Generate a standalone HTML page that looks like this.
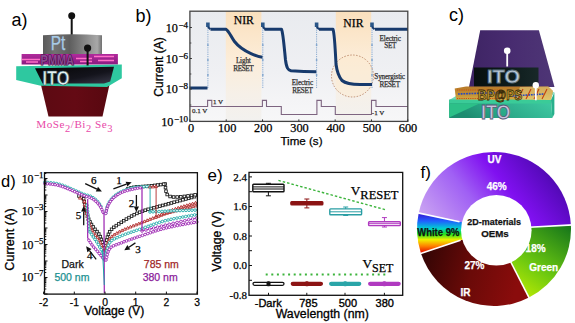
<!DOCTYPE html>
<html><head><meta charset="utf-8"><style>
html,body{margin:0;padding:0;background:#fff;width:575px;height:323px;overflow:hidden}
svg{display:block}
</style></head><body>
<svg width="575" height="323" viewBox="0 0 575 323">
<defs>
<linearGradient id="ptg" x1="0" x2="1" y1="0" y2="0">
 <stop offset="0" stop-color="#5a5a5a"/><stop offset="0.2" stop-color="#727272"/><stop offset="0.45" stop-color="#5e5e5e"/>
 <stop offset="0.78" stop-color="#929292"/><stop offset="0.92" stop-color="#a8a8a8"/><stop offset="1" stop-color="#707070"/>
</linearGradient>
<linearGradient id="marg" x1="0" x2="1" y1="0" y2="0">
 <stop offset="0" stop-color="#5c0a12"/><stop offset="0.5" stop-color="#640a14"/><stop offset="1" stop-color="#580810"/>
</linearGradient>
<linearGradient id="pmg" x1="0" x2="0" y1="0" y2="1">
 <stop offset="0" stop-color="#b02a9c"/><stop offset="1" stop-color="#8a1a80"/>
</linearGradient>
<linearGradient id="itoblk" x1="0" x2="1" y1="0" y2="1">
 <stop offset="0" stop-color="#050505"/><stop offset="0.6" stop-color="#14141c"/><stop offset="1" stop-color="#3a3a4a"/>
</linearGradient>

<linearGradient id="bbg" x1="0" x2="0" y1="0" y2="1">
 <stop offset="0" stop-color="#e9ebef"/><stop offset="0.55" stop-color="#eff0f3"/><stop offset="0.8" stop-color="#f4f4f6"/><stop offset="1" stop-color="#f7f7f8"/>
</linearGradient>
<linearGradient id="nir" x1="0" x2="0" y1="0" y2="1">
 <stop offset="0" stop-color="#fae0bd"/><stop offset="0.45" stop-color="#fcedd9"/><stop offset="0.75" stop-color="#f6f0e8"/><stop offset="1" stop-color="#f2f1ef"/>
</linearGradient>

<linearGradient id="cpur" x1="0" x2="1" y1="0" y2="0">
 <stop offset="0" stop-color="#3e2464"/><stop offset="0.5" stop-color="#482c70"/><stop offset="1" stop-color="#4e3676"/>
</linearGradient>
<linearGradient id="cblk" x1="0" x2="1" y1="0" y2="0">
 <stop offset="0" stop-color="#081010"/><stop offset="0.5" stop-color="#0c1a1a"/><stop offset="1" stop-color="#182828"/>
</linearGradient>
<linearGradient id="tealf" x1="0" x2="1" y1="0.3" y2="0">
 <stop offset="0" stop-color="#1c8c70"/><stop offset="0.35" stop-color="#2aa888"/><stop offset="1" stop-color="#40cca4"/>
</linearGradient>
<linearGradient id="cgold" x1="0" x2="0" y1="0" y2="1">
 <stop offset="0" stop-color="#b87a2a"/><stop offset="0.5" stop-color="#c08c30"/><stop offset="1" stop-color="#d4ac48"/>
</linearGradient>

<linearGradient id="uvg" x1="0" y1="0.75" x2="1" y2="0.35">
 <stop offset="0" stop-color="#c9a2f2"/><stop offset="0.35" stop-color="#a060f4"/><stop offset="0.6" stop-color="#8010f0"/><stop offset="0.85" stop-color="#5a0ac0"/><stop offset="1" stop-color="#40089a"/>
</linearGradient>
<linearGradient id="grg" x1="0.2" y1="1" x2="0.9" y2="0">
 <stop offset="0" stop-color="#ccf200"/><stop offset="0.45" stop-color="#6cc810"/><stop offset="1" stop-color="#1a7a1a"/>
</linearGradient>
<linearGradient id="irg" x1="0" y1="0" x2="1" y2="0.2">
 <stop offset="0" stop-color="#2a0404"/><stop offset="0.55" stop-color="#6a0a08"/><stop offset="1" stop-color="#8a0c0c"/>
</linearGradient>
<linearGradient id="whg" x1="0" y1="0" x2="0" y2="1">
 <stop offset="0" stop-color="#3a10d0"/><stop offset="0.2" stop-color="#2060ff"/><stop offset="0.38" stop-color="#00d0d0"/>
 <stop offset="0.52" stop-color="#20e020"/><stop offset="0.66" stop-color="#f0f000"/><stop offset="0.82" stop-color="#ff8000"/><stop offset="1" stop-color="#e00000"/>
</linearGradient>
</defs>
<text x="11.5" y="25.6" font-size="18" fill="#000" font-family='"Liberation Sans", sans-serif' text-anchor="start" font-weight="normal" >a)</text>
<text x="135.5" y="22.3" font-size="18" fill="#000" font-family='"Liberation Sans", sans-serif' text-anchor="start" font-weight="normal" >b)</text>
<text x="449" y="21" font-size="18" fill="#000" font-family='"Liberation Sans", sans-serif' text-anchor="start" font-weight="normal" >c)</text>
<text x="1" y="186.5" font-size="16.5" fill="#000" font-family='"Liberation Sans", sans-serif' text-anchor="start" font-weight="normal" >d)</text>
<text x="207.5" y="180.5" font-size="17" fill="#000" font-family='"Liberation Sans", sans-serif' text-anchor="start" font-weight="normal" >e)</text>
<text x="420.5" y="178.3" font-size="17" fill="#000" font-family='"Liberation Sans", sans-serif' text-anchor="start" font-weight="normal" >f)</text>
<g>
<line x1="71.7" y1="15.8" x2="71.7" y2="35" stroke="#111" stroke-width="2"/>
<circle cx="71.7" cy="15.8" r="3.5" fill="#111"/>
<polygon points="41,85 109.4,85 102.5,116.5 48.5,116.5" fill="url(#marg)"/>
<path d="M43,35.3 Q72,33 102,35.3 V54 H43 Z" fill="url(#ptg)"/>
<rect x="21.6" y="54" width="96.3" height="10.5" fill="url(#pmg)"/>
<path d="M22,59.5 h18 M26,62 h12 M76,58.5 h16 M94,56.5 h20 M80,61.5 h12 M98,60.5 h16" stroke="#ff70c8" stroke-width="1.3"/>
<polygon points="16.2,66.3 121.8,64.4 121.8,78.3 107,86.9 40.7,85.8 16.2,80" fill="#2ec8a0"/>
<polygon points="35,68.2 114,66.7 110.2,81.4 104,83.5 42.6,83.5" fill="url(#itoblk)"/>
<line x1="87.6" y1="48.1" x2="87.6" y2="65.5" stroke="#111" stroke-width="2"/>
<circle cx="87.6" cy="48.1" r="3.6" fill="#111"/>
</g>
<text x="50.8" y="50" font-size="20" fill="#a8cce8" font-family='"Liberation Sans", sans-serif' text-anchor="start" font-weight="normal" textLength="14.5" lengthAdjust="spacingAndGlyphs" stroke="#a8cce8" stroke-width="0.25">Pt</text>
<text x="40.6" y="65.4" font-size="14" fill="#8a4890" font-family='"Liberation Sans", sans-serif' text-anchor="start" font-weight="bold" stroke="#3a0a3a" stroke-width="1.2" paint-order="stroke" textLength="33.4" lengthAdjust="spacingAndGlyphs">PMMA</text>
<text x="42.6" y="85.4" font-size="21" fill="#e4f2f2" font-family='"Liberation Sans", sans-serif' text-anchor="start" font-weight="bold" stroke="#3a6068" stroke-width="0.7" textLength="26.8" lengthAdjust="spacingAndGlyphs">ITO</text>
<text x="36.3" y="128.4" font-size="11.2" fill="#e848a8" font-family='"Liberation Serif", serif' letter-spacing="0.5">MoSe<tspan font-size="10.5" dy="3.3">2</tspan><tspan dy="-3.3">/Bi</tspan><tspan font-size="10.5" dy="3.3">2</tspan><tspan dy="-3.3"> Se</tspan><tspan font-size="10.5" dy="3.3">3</tspan></text>
<rect x="189.9" y="11.2" width="217.9" height="110.2" fill="url(#bbg)"/>
<rect x="225.8" y="11.2" width="35.6" height="110.2" fill="url(#nir)"/>
<rect x="335.8" y="11.2" width="35.4" height="110.2" fill="url(#nir)"/>
<circle cx="352.5" cy="76" r="21" fill="#fbe9cf" fill-opacity="0.5" stroke="#b27a5a" stroke-width="0.8" stroke-dasharray="1.5,1.5"/>
<path d="M189.9,106.5 H207.6 V100.4 H211.8 V106.5 H262.4 V100.4 H266.5 V106.5 H281.3 V114.5 H316.9 V100.4 H321.3 V106.5 H335.3 V114.5 H371.5 V100.4 H376 V106.5 H407.8" fill="none" stroke="#7d6480" stroke-width="1.1"/>
<line x1="207.9" y1="88" x2="207.9" y2="24" stroke="#7ea3cc" stroke-width="0.9" stroke-dasharray="1.2,1"/>
<circle cx="207.9" cy="45" r="0.9" fill="#7ea3cc"/>
<circle cx="207.9" cy="60" r="0.9" fill="#7ea3cc"/>
<circle cx="207.9" cy="75" r="0.9" fill="#7ea3cc"/>
<line x1="262.8" y1="88" x2="262.8" y2="24" stroke="#7ea3cc" stroke-width="0.9" stroke-dasharray="1.2,1"/>
<circle cx="262.8" cy="45" r="0.9" fill="#7ea3cc"/>
<circle cx="262.8" cy="60" r="0.9" fill="#7ea3cc"/>
<circle cx="262.8" cy="75" r="0.9" fill="#7ea3cc"/>
<line x1="316.6" y1="88" x2="316.6" y2="24" stroke="#7ea3cc" stroke-width="0.9" stroke-dasharray="1.2,1"/>
<circle cx="316.6" cy="45" r="0.9" fill="#7ea3cc"/>
<circle cx="316.6" cy="60" r="0.9" fill="#7ea3cc"/>
<circle cx="316.6" cy="75" r="0.9" fill="#7ea3cc"/>
<line x1="372" y1="88" x2="372" y2="24" stroke="#7ea3cc" stroke-width="0.9" stroke-dasharray="1.2,1"/>
<circle cx="372" cy="45" r="0.9" fill="#7ea3cc"/>
<circle cx="372" cy="60" r="0.9" fill="#7ea3cc"/>
<circle cx="372" cy="75" r="0.9" fill="#7ea3cc"/>
<path d="M189.5,88 H207.5" fill="none" stroke="#173a6c" stroke-width="3" stroke-linejoin="round"/>
<path d="M210.5,29.2 H226 C229,31 231,37 234.5,41.5 C238,46 243,50 251,53.6 C255,55.5 259,57 262.5,57.3" fill="none" stroke="#173a6c" stroke-width="3" stroke-linejoin="round"/>
<path d="M264.5,29.2 H281.5 C283,32 284,45 285.5,60 C286.5,68 288,70 291,70.8 C300,71.5 308,71.8 316.3,71.8" fill="none" stroke="#173a6c" stroke-width="3" stroke-linejoin="round"/>
<path d="M319,29.2 H333 C334.5,33 335.3,50 336,64 C337,72 339,77 342,80.5 C345,83 350,84.5 360,84.5 H372" fill="none" stroke="#173a6c" stroke-width="3" stroke-linejoin="round"/>
<path d="M375,29.2 H408" fill="none" stroke="#173a6c" stroke-width="3" stroke-linejoin="round"/>
<rect x="206.1" y="22.5" width="3.6" height="4.5" fill="#2a5688"/>
<path d="M207.9,27 L210.5,29.2" stroke="#173a6c" stroke-width="2"/>
<rect x="261.0" y="22.5" width="3.6" height="4.5" fill="#2a5688"/>
<path d="M262.8,27 L265.40000000000003,29.2" stroke="#173a6c" stroke-width="2"/>
<rect x="314.8" y="22.5" width="3.6" height="4.5" fill="#2a5688"/>
<path d="M316.6,27 L319.20000000000005,29.2" stroke="#173a6c" stroke-width="2"/>
<rect x="370.2" y="22.5" width="3.6" height="4.5" fill="#2a5688"/>
<path d="M372,27 L374.6,29.2" stroke="#173a6c" stroke-width="2"/>
<rect x="189.9" y="11.2" width="217.9" height="110.2" fill="none" stroke="#444" stroke-width="1.3"/>
<line x1="189.9" y1="121.4" x2="189.9" y2="119.4" stroke="#333" stroke-width="1"/>
<text x="191.0" y="132.2" font-size="12.3" fill="#000" font-family='"Liberation Serif", serif' text-anchor="middle" font-weight="normal"  stroke="#000" stroke-width="0.25">0</text>
<line x1="226.21666666666667" y1="121.4" x2="226.21666666666667" y2="119.4" stroke="#333" stroke-width="1"/>
<text x="227.2" y="132.2" font-size="12.3" fill="#000" font-family='"Liberation Serif", serif' text-anchor="middle" font-weight="normal"  stroke="#000" stroke-width="0.25">100</text>
<line x1="262.53333333333336" y1="121.4" x2="262.53333333333336" y2="119.4" stroke="#333" stroke-width="1"/>
<text x="263.3" y="132.2" font-size="12.3" fill="#000" font-family='"Liberation Serif", serif' text-anchor="middle" font-weight="normal"  stroke="#000" stroke-width="0.25">200</text>
<line x1="298.85" y1="121.4" x2="298.85" y2="119.4" stroke="#333" stroke-width="1"/>
<text x="299.5" y="132.2" font-size="12.3" fill="#000" font-family='"Liberation Serif", serif' text-anchor="middle" font-weight="normal"  stroke="#000" stroke-width="0.25">300</text>
<line x1="335.1666666666667" y1="121.4" x2="335.1666666666667" y2="119.4" stroke="#333" stroke-width="1"/>
<text x="335.7" y="132.2" font-size="12.3" fill="#000" font-family='"Liberation Serif", serif' text-anchor="middle" font-weight="normal"  stroke="#000" stroke-width="0.25">400</text>
<line x1="371.48333333333335" y1="121.4" x2="371.48333333333335" y2="119.4" stroke="#333" stroke-width="1"/>
<text x="371.9" y="132.2" font-size="12.3" fill="#000" font-family='"Liberation Serif", serif' text-anchor="middle" font-weight="normal"  stroke="#000" stroke-width="0.25">500</text>
<line x1="407.8" y1="121.4" x2="407.8" y2="119.4" stroke="#333" stroke-width="1"/>
<text x="408.0" y="132.2" font-size="12.3" fill="#000" font-family='"Liberation Serif", serif' text-anchor="middle" font-weight="normal"  stroke="#000" stroke-width="0.25">600</text>
<line x1="189.9" y1="27.5" x2="191.9" y2="27.5" stroke="#333" stroke-width="1"/>
<line x1="189.9" y1="58.5" x2="191.9" y2="58.5" stroke="#333" stroke-width="1"/>
<line x1="189.9" y1="89" x2="191.9" y2="89" stroke="#333" stroke-width="1"/>
<line x1="189.9" y1="43" x2="191.4" y2="43" stroke="#333" stroke-width="0.8"/>
<line x1="189.9" y1="74" x2="191.4" y2="74" stroke="#333" stroke-width="0.8"/>
<line x1="189.9" y1="105" x2="191.4" y2="105" stroke="#333" stroke-width="0.8"/>
<text x="188.1" y="31.9" font-family='"Liberation Serif", serif' font-size="12.2" text-anchor="end" stroke="#000" stroke-width="0.25">10<tspan font-size="9" dy="-4.3" dx="0.6">−4</tspan></text>
<text x="188.1" y="62.9" font-family='"Liberation Serif", serif' font-size="12.2" text-anchor="end" stroke="#000" stroke-width="0.25">10<tspan font-size="9" dy="-4.3" dx="0.6">−6</tspan></text>
<text x="188.1" y="93.4" font-family='"Liberation Serif", serif' font-size="12.2" text-anchor="end" stroke="#000" stroke-width="0.25">10<tspan font-size="9" dy="-4.3" dx="0.6">−8</tspan></text>
<text x="188.1" y="125.9" font-family='"Liberation Serif", serif' font-size="12.2" text-anchor="end" stroke="#000" stroke-width="0.25">10<tspan font-size="9" dy="-4.3" dx="0.6">−10</tspan></text>
<text x="301.5" y="145.2" font-size="11.6" fill="#000" font-family='"Liberation Sans", sans-serif' text-anchor="middle" font-weight="normal"  stroke="#000" stroke-width="0.25">Time (s)</text>
<text transform="translate(162.5,67) rotate(-90)" font-size="12" font-family='"Liberation Sans", sans-serif' text-anchor="middle" stroke="#000" stroke-width="0.3">Current (A)</text>
<text x="243.8" y="24.3" font-size="11.7" fill="#000" font-family='"Liberation Serif", serif' text-anchor="middle" font-weight="normal"  stroke="#000" stroke-width="0.25">NIR</text>
<text x="353.4" y="26.6" font-size="11.7" fill="#000" font-family='"Liberation Serif", serif' text-anchor="middle" font-weight="normal"  stroke="#000" stroke-width="0.25">NIR</text>
<text x="243.3" y="62.5" font-size="7.2" fill="#333" font-family='"Liberation Serif", serif' text-anchor="middle" font-weight="normal" letter-spacing="-0.15" stroke="#333" stroke-width="0.25">Light</text>
<text x="243.3" y="70.8" font-size="7.2" fill="#333" font-family='"Liberation Serif", serif' text-anchor="middle" font-weight="normal" letter-spacing="-0.35" stroke="#333" stroke-width="0.25">RESET</text>
<text x="302.4" y="84.6" font-size="7.2" fill="#333" font-family='"Liberation Serif", serif' text-anchor="middle" font-weight="normal" letter-spacing="-0.15" stroke="#333" stroke-width="0.25">Electric</text>
<text x="302.4" y="93" font-size="7.2" fill="#333" font-family='"Liberation Serif", serif' text-anchor="middle" font-weight="normal" letter-spacing="-0.35" stroke="#333" stroke-width="0.25">RESET</text>
<text x="390.2" y="40.6" font-size="7.2" fill="#333" font-family='"Liberation Serif", serif' text-anchor="middle" font-weight="normal" letter-spacing="-0.15" stroke="#333" stroke-width="0.25">Electric</text>
<text x="390.2" y="48.2" font-size="7.2" fill="#333" font-family='"Liberation Serif", serif' text-anchor="middle" font-weight="normal" letter-spacing="-0.35" stroke="#333" stroke-width="0.25">SET</text>
<text x="389.6" y="79" font-size="7.2" fill="#333" font-family='"Liberation Serif", serif' text-anchor="middle" font-weight="normal" letter-spacing="-0.15" stroke="#333" stroke-width="0.25">Synergistic</text>
<text x="389.6" y="87" font-size="7.2" fill="#333" font-family='"Liberation Serif", serif' text-anchor="middle" font-weight="normal" letter-spacing="-0.35" stroke="#333" stroke-width="0.25">RESET</text>
<text x="192" y="113.2" font-size="7" fill="#333" font-family='"Liberation Serif", serif' text-anchor="start" font-weight="normal"  stroke="#333" stroke-width="0.25">0.1 V</text>
<text x="213" y="104.2" font-size="7" fill="#333" font-family='"Liberation Serif", serif' text-anchor="start" font-weight="normal"  stroke="#333" stroke-width="0.25">1 V</text>
<text x="371.8" y="115.2" font-size="7" fill="#333" font-family='"Liberation Serif", serif' text-anchor="start" font-weight="normal"  stroke="#333" stroke-width="0.25">-1 V</text>
<g>
<polygon points="480.2,30.3 538.9,30.3 554.5,87 469,87" fill="url(#cpur)"/>
<polygon points="474,67.5 538.5,67.5 538.5,86.7 474,86.7" fill="url(#cblk)"/>
<line x1="507.2" y1="50.7" x2="507.2" y2="66.5" stroke="#fff" stroke-width="1.8"/>
<circle cx="507.2" cy="50.7" r="3.3" fill="#fff"/>
<polygon points="449.2,100 462,92.5 554.4,92.2 549,100" fill="#6adcbc"/>
<polygon points="454.7,88.4 466,86.5 548.3,86.5 553,91 551,100 456,100" fill="url(#cgold)"/>
<polygon points="520,87 548.3,86.5 553,91 551,100 515,100" fill="#f0e090" opacity="0.5"/>
<path d="M458,94 l44,-1.5 M512,96 l32,-2" stroke="#2848c0" stroke-width="1.6" stroke-dasharray="1.8,0.9"/>
<path d="M457,90 h44 M457,98.5 h46" stroke="#c85010" stroke-width="1" stroke-dasharray="1.2,1"/>
<path d="M518,99 l5,-10 M526,99 l5,-10 M534,99 l5,-10 M542,99 l5,-10" stroke="#c04010" stroke-width="1.1"/>
<polygon points="449.2,99.7 551,100 552.3,118 449.2,118" fill="url(#tealf)"/>
<polygon points="449.2,99.7 551,100 551,103.4 449.2,103.4" fill="#3acb98"/>
<polygon points="449.2,103.4 479.4,103.4 449.2,117.4" fill="#2cc088"/>
<polygon points="551,100 554.4,92.2 554.4,114 552.3,118" fill="#28b08c"/>
<line x1="535.8" y1="85.2" x2="535.8" y2="100.3" stroke="#fff" stroke-width="1.8"/>
<circle cx="535.8" cy="85.2" r="3.2" fill="#fff"/>
</g>
<text x="503.5" y="83" font-size="18.5" fill="#b8c8d6" font-family='"Liberation Sans", sans-serif' text-anchor="middle" font-weight="bold" stroke="#5a7080" stroke-width="0.8" textLength="33" lengthAdjust="spacingAndGlyphs">ITO</text>
<text x="477.8" y="100.3" font-size="15" fill="#c8a838" font-family='"Liberation Sans", sans-serif' text-anchor="start" font-weight="bold" stroke="#3a2a08" stroke-width="0.8" textLength="44.4" lengthAdjust="spacingAndGlyphs">BP@PS</text>
<text x="481" y="119" font-size="20.5" fill="#c8c4dc" font-family='"Liberation Sans", sans-serif' text-anchor="start" font-weight="bold" stroke="#5a5a78" stroke-width="0.8" textLength="29.5" lengthAdjust="spacingAndGlyphs">ITO</text>
<path d="M44.8,182.3 C47.3,182.7 53.6,182.5 60.0,184.4 C66.4,186.3 78.2,192.0 83.4,194.0 C88.6,196.0 88.7,195.2 91.1,196.5 C93.5,197.8 95.8,199.6 97.6,201.5 C99.4,203.4 101.2,206.9 101.9,208.0" fill="none" stroke="#1aa5a5" stroke-width="0.9"/>
<circle cx="44.8" cy="182.3" r="1.3" fill="#fff" stroke="#1aa5a5" stroke-width="0.85"/>
<circle cx="47.8" cy="182.5" r="1.3" fill="#fff" stroke="#1aa5a5" stroke-width="0.85"/>
<circle cx="50.8" cy="182.7" r="1.3" fill="#fff" stroke="#1aa5a5" stroke-width="0.85"/>
<circle cx="53.8" cy="183.1" r="1.3" fill="#fff" stroke="#1aa5a5" stroke-width="0.85"/>
<circle cx="56.7" cy="183.6" r="1.3" fill="#fff" stroke="#1aa5a5" stroke-width="0.85"/>
<circle cx="59.6" cy="184.3" r="1.3" fill="#fff" stroke="#1aa5a5" stroke-width="0.85"/>
<circle cx="62.5" cy="185.2" r="1.3" fill="#fff" stroke="#1aa5a5" stroke-width="0.85"/>
<circle cx="65.3" cy="186.3" r="1.3" fill="#fff" stroke="#1aa5a5" stroke-width="0.85"/>
<circle cx="68.1" cy="187.4" r="1.3" fill="#fff" stroke="#1aa5a5" stroke-width="0.85"/>
<circle cx="70.8" cy="188.6" r="1.3" fill="#fff" stroke="#1aa5a5" stroke-width="0.85"/>
<circle cx="73.6" cy="189.8" r="1.3" fill="#fff" stroke="#1aa5a5" stroke-width="0.85"/>
<circle cx="76.3" cy="191.0" r="1.3" fill="#fff" stroke="#1aa5a5" stroke-width="0.85"/>
<circle cx="79.1" cy="192.2" r="1.3" fill="#fff" stroke="#1aa5a5" stroke-width="0.85"/>
<circle cx="81.8" cy="193.4" r="1.3" fill="#fff" stroke="#1aa5a5" stroke-width="0.85"/>
<circle cx="84.6" cy="194.5" r="1.3" fill="#fff" stroke="#1aa5a5" stroke-width="0.85"/>
<circle cx="87.5" cy="195.3" r="1.3" fill="#fff" stroke="#1aa5a5" stroke-width="0.85"/>
<circle cx="90.4" cy="196.2" r="1.3" fill="#fff" stroke="#1aa5a5" stroke-width="0.85"/>
<circle cx="93.0" cy="197.6" r="1.3" fill="#fff" stroke="#1aa5a5" stroke-width="0.85"/>
<circle cx="95.4" cy="199.4" r="1.3" fill="#fff" stroke="#1aa5a5" stroke-width="0.85"/>
<circle cx="97.6" cy="201.5" r="1.3" fill="#fff" stroke="#1aa5a5" stroke-width="0.85"/>
<circle cx="99.4" cy="203.9" r="1.3" fill="#fff" stroke="#1aa5a5" stroke-width="0.85"/>
<circle cx="101.0" cy="206.4" r="1.3" fill="#fff" stroke="#1aa5a5" stroke-width="0.85"/>
<path d="M79.0,196.0 C79.8,196.3 82.8,197.7 83.5,198.0" fill="none" stroke="#1a1a1a" stroke-width="0.9"/>
<rect x="77.7" y="194.7" width="2.6" height="2.6" fill="#fff" stroke="#1a1a1a" stroke-width="0.85"/>
<rect x="80.4" y="195.9" width="2.6" height="2.6" fill="#fff" stroke="#1a1a1a" stroke-width="0.85"/>
<path d="M80.0,198.0 C80.7,198.2 83.3,198.8 84.0,199.0" fill="none" stroke="#b02828" stroke-width="0.9"/>
<path d="M80.0,196.4 L81.5,199.1 L78.5,199.1 Z" fill="#fff" stroke="#b02828" stroke-width="0.85"/>
<path d="M82.9,197.1 L84.4,199.8 L81.4,199.8 Z" fill="#fff" stroke="#b02828" stroke-width="0.85"/>
<path d="M104.0,248.0 C103.3,246.0 101.7,239.3 100.0,236.0 C98.3,232.7 95.8,230.7 94.0,228.0 C92.2,225.3 90.3,223.0 89.0,220.0 C87.7,217.0 86.9,213.7 86.0,210.0 C85.1,206.3 83.9,200.0 83.5,198.0" fill="none" stroke="#1a1a1a" stroke-width="0.9"/>
<rect x="102.7" y="246.7" width="2.6" height="2.6" fill="#fff" stroke="#1a1a1a" stroke-width="0.85"/>
<rect x="101.8" y="243.8" width="2.6" height="2.6" fill="#fff" stroke="#1a1a1a" stroke-width="0.85"/>
<rect x="101.0" y="240.9" width="2.6" height="2.6" fill="#fff" stroke="#1a1a1a" stroke-width="0.85"/>
<rect x="100.1" y="238.1" width="2.6" height="2.6" fill="#fff" stroke="#1a1a1a" stroke-width="0.85"/>
<rect x="99.0" y="235.3" width="2.6" height="2.6" fill="#fff" stroke="#1a1a1a" stroke-width="0.85"/>
<rect x="97.5" y="232.7" width="2.6" height="2.6" fill="#fff" stroke="#1a1a1a" stroke-width="0.85"/>
<rect x="95.7" y="230.3" width="2.6" height="2.6" fill="#fff" stroke="#1a1a1a" stroke-width="0.85"/>
<rect x="93.7" y="228.0" width="2.6" height="2.6" fill="#fff" stroke="#1a1a1a" stroke-width="0.85"/>
<rect x="91.9" y="225.6" width="2.6" height="2.6" fill="#fff" stroke="#1a1a1a" stroke-width="0.85"/>
<rect x="90.2" y="223.2" width="2.6" height="2.6" fill="#fff" stroke="#1a1a1a" stroke-width="0.85"/>
<rect x="88.7" y="220.6" width="2.6" height="2.6" fill="#fff" stroke="#1a1a1a" stroke-width="0.85"/>
<rect x="87.4" y="217.9" width="2.6" height="2.6" fill="#fff" stroke="#1a1a1a" stroke-width="0.85"/>
<rect x="86.4" y="215.1" width="2.6" height="2.6" fill="#fff" stroke="#1a1a1a" stroke-width="0.85"/>
<rect x="85.6" y="212.2" width="2.6" height="2.6" fill="#fff" stroke="#1a1a1a" stroke-width="0.85"/>
<rect x="84.8" y="209.3" width="2.6" height="2.6" fill="#fff" stroke="#1a1a1a" stroke-width="0.85"/>
<rect x="84.2" y="206.4" width="2.6" height="2.6" fill="#fff" stroke="#1a1a1a" stroke-width="0.85"/>
<rect x="83.5" y="203.4" width="2.6" height="2.6" fill="#fff" stroke="#1a1a1a" stroke-width="0.85"/>
<rect x="82.9" y="200.5" width="2.6" height="2.6" fill="#fff" stroke="#1a1a1a" stroke-width="0.85"/>
<rect x="82.4" y="197.5" width="2.6" height="2.6" fill="#fff" stroke="#1a1a1a" stroke-width="0.85"/>
<path d="M104.0,251.0 C103.2,249.2 100.8,243.2 99.0,240.0 C97.2,236.8 94.5,234.5 93.0,232.0 C91.5,229.5 91.2,228.3 90.0,225.0 C88.8,221.7 87.0,216.3 86.0,212.0 C85.0,207.7 84.3,201.2 84.0,199.0" fill="none" stroke="#b02828" stroke-width="0.9"/>
<path d="M104.0,249.4 L105.5,252.1 L102.5,252.1 Z" fill="#fff" stroke="#b02828" stroke-width="0.85"/>
<path d="M102.8,246.6 L104.3,249.3 L101.3,249.3 Z" fill="#fff" stroke="#b02828" stroke-width="0.85"/>
<path d="M101.6,243.9 L103.1,246.6 L100.1,246.6 Z" fill="#fff" stroke="#b02828" stroke-width="0.85"/>
<path d="M100.4,241.1 L101.9,243.8 L98.9,243.8 Z" fill="#fff" stroke="#b02828" stroke-width="0.85"/>
<path d="M99.0,238.5 L100.5,241.2 L97.5,241.2 Z" fill="#fff" stroke="#b02828" stroke-width="0.85"/>
<path d="M97.4,236.0 L98.9,238.7 L95.9,238.7 Z" fill="#fff" stroke="#b02828" stroke-width="0.85"/>
<path d="M95.5,233.7 L97.0,236.4 L94.0,236.4 Z" fill="#fff" stroke="#b02828" stroke-width="0.85"/>
<path d="M93.6,231.3 L95.1,234.0 L92.1,234.0 Z" fill="#fff" stroke="#b02828" stroke-width="0.85"/>
<path d="M92.1,228.7 L93.6,231.4 L90.6,231.4 Z" fill="#fff" stroke="#b02828" stroke-width="0.85"/>
<path d="M90.9,226.0 L92.4,228.7 L89.4,228.7 Z" fill="#fff" stroke="#b02828" stroke-width="0.85"/>
<path d="M89.9,223.2 L91.4,225.9 L88.4,225.9 Z" fill="#fff" stroke="#b02828" stroke-width="0.85"/>
<path d="M88.9,220.3 L90.4,223.0 L87.4,223.0 Z" fill="#fff" stroke="#b02828" stroke-width="0.85"/>
<path d="M88.0,217.5 L89.5,220.2 L86.5,220.2 Z" fill="#fff" stroke="#b02828" stroke-width="0.85"/>
<path d="M87.1,214.6 L88.6,217.3 L85.6,217.3 Z" fill="#fff" stroke="#b02828" stroke-width="0.85"/>
<path d="M86.3,211.7 L87.8,214.4 L84.8,214.4 Z" fill="#fff" stroke="#b02828" stroke-width="0.85"/>
<path d="M85.7,208.8 L87.2,211.5 L84.2,211.5 Z" fill="#fff" stroke="#b02828" stroke-width="0.85"/>
<path d="M85.2,205.8 L86.7,208.5 L83.7,208.5 Z" fill="#fff" stroke="#b02828" stroke-width="0.85"/>
<path d="M84.7,202.9 L86.2,205.6 L83.2,205.6 Z" fill="#fff" stroke="#b02828" stroke-width="0.85"/>
<path d="M84.3,199.9 L85.8,202.6 L82.8,202.6 Z" fill="#fff" stroke="#b02828" stroke-width="0.85"/>
<path d="M104.0,255.0 C103.0,253.2 100.0,247.3 98.0,244.0 C96.0,240.7 93.5,237.5 92.0,235.0 C90.5,232.5 89.7,232.3 89.0,229.0 C88.3,225.7 88.3,219.0 88.0,215.0 C87.7,211.0 87.2,206.7 87.0,205.0" fill="none" stroke="#1aa5a5" stroke-width="0.9"/>
<circle cx="104.0" cy="255.0" r="1.3" fill="#fff" stroke="#1aa5a5" stroke-width="0.85"/>
<circle cx="102.6" cy="252.4" r="1.3" fill="#fff" stroke="#1aa5a5" stroke-width="0.85"/>
<circle cx="101.2" cy="249.7" r="1.3" fill="#fff" stroke="#1aa5a5" stroke-width="0.85"/>
<circle cx="99.7" cy="247.1" r="1.3" fill="#fff" stroke="#1aa5a5" stroke-width="0.85"/>
<circle cx="98.3" cy="244.5" r="1.3" fill="#fff" stroke="#1aa5a5" stroke-width="0.85"/>
<circle cx="96.7" cy="241.9" r="1.3" fill="#fff" stroke="#1aa5a5" stroke-width="0.85"/>
<circle cx="95.0" cy="239.4" r="1.3" fill="#fff" stroke="#1aa5a5" stroke-width="0.85"/>
<circle cx="93.3" cy="237.0" r="1.3" fill="#fff" stroke="#1aa5a5" stroke-width="0.85"/>
<circle cx="91.7" cy="234.5" r="1.3" fill="#fff" stroke="#1aa5a5" stroke-width="0.85"/>
<circle cx="90.0" cy="232.0" r="1.3" fill="#fff" stroke="#1aa5a5" stroke-width="0.85"/>
<circle cx="89.0" cy="229.1" r="1.3" fill="#fff" stroke="#1aa5a5" stroke-width="0.85"/>
<circle cx="88.6" cy="226.2" r="1.3" fill="#fff" stroke="#1aa5a5" stroke-width="0.85"/>
<circle cx="88.4" cy="223.2" r="1.3" fill="#fff" stroke="#1aa5a5" stroke-width="0.85"/>
<circle cx="88.3" cy="220.2" r="1.3" fill="#fff" stroke="#1aa5a5" stroke-width="0.85"/>
<circle cx="88.1" cy="217.2" r="1.3" fill="#fff" stroke="#1aa5a5" stroke-width="0.85"/>
<circle cx="87.9" cy="214.2" r="1.3" fill="#fff" stroke="#1aa5a5" stroke-width="0.85"/>
<circle cx="87.6" cy="211.2" r="1.3" fill="#fff" stroke="#1aa5a5" stroke-width="0.85"/>
<circle cx="87.3" cy="208.2" r="1.3" fill="#fff" stroke="#1aa5a5" stroke-width="0.85"/>
<circle cx="87.0" cy="205.2" r="1.3" fill="#fff" stroke="#1aa5a5" stroke-width="0.85"/>
<path d="M106.0,243.0 C106.7,241.0 107.5,234.6 110.0,231.2 C112.5,227.8 116.0,225.7 121.0,222.5 C126.0,219.3 132.5,215.1 140.0,212.1 C147.5,209.1 156.5,207.2 166.0,204.5 C175.5,201.8 191.8,197.4 197.0,196.0" fill="none" stroke="#1a1a1a" stroke-width="0.9"/>
<rect x="104.7" y="241.7" width="2.6" height="2.6" fill="#fff" stroke="#1a1a1a" stroke-width="0.85"/>
<rect x="105.4" y="238.8" width="2.6" height="2.6" fill="#fff" stroke="#1a1a1a" stroke-width="0.85"/>
<rect x="106.1" y="235.9" width="2.6" height="2.6" fill="#fff" stroke="#1a1a1a" stroke-width="0.85"/>
<rect x="107.1" y="233.0" width="2.6" height="2.6" fill="#fff" stroke="#1a1a1a" stroke-width="0.85"/>
<rect x="108.4" y="230.4" width="2.6" height="2.6" fill="#fff" stroke="#1a1a1a" stroke-width="0.85"/>
<rect x="110.3" y="228.0" width="2.6" height="2.6" fill="#fff" stroke="#1a1a1a" stroke-width="0.85"/>
<rect x="112.5" y="226.0" width="2.6" height="2.6" fill="#fff" stroke="#1a1a1a" stroke-width="0.85"/>
<rect x="115.0" y="224.3" width="2.6" height="2.6" fill="#fff" stroke="#1a1a1a" stroke-width="0.85"/>
<rect x="117.5" y="222.6" width="2.6" height="2.6" fill="#fff" stroke="#1a1a1a" stroke-width="0.85"/>
<rect x="120.0" y="221.0" width="2.6" height="2.6" fill="#fff" stroke="#1a1a1a" stroke-width="0.85"/>
<rect x="122.5" y="219.4" width="2.6" height="2.6" fill="#fff" stroke="#1a1a1a" stroke-width="0.85"/>
<rect x="125.1" y="217.8" width="2.6" height="2.6" fill="#fff" stroke="#1a1a1a" stroke-width="0.85"/>
<rect x="127.7" y="216.3" width="2.6" height="2.6" fill="#fff" stroke="#1a1a1a" stroke-width="0.85"/>
<rect x="130.3" y="214.8" width="2.6" height="2.6" fill="#fff" stroke="#1a1a1a" stroke-width="0.85"/>
<rect x="132.9" y="213.4" width="2.6" height="2.6" fill="#fff" stroke="#1a1a1a" stroke-width="0.85"/>
<rect x="135.6" y="212.1" width="2.6" height="2.6" fill="#fff" stroke="#1a1a1a" stroke-width="0.85"/>
<rect x="138.4" y="210.9" width="2.6" height="2.6" fill="#fff" stroke="#1a1a1a" stroke-width="0.85"/>
<rect x="141.2" y="209.9" width="2.6" height="2.6" fill="#fff" stroke="#1a1a1a" stroke-width="0.85"/>
<rect x="144.0" y="208.9" width="2.6" height="2.6" fill="#fff" stroke="#1a1a1a" stroke-width="0.85"/>
<rect x="146.9" y="208.0" width="2.6" height="2.6" fill="#fff" stroke="#1a1a1a" stroke-width="0.85"/>
<rect x="149.8" y="207.2" width="2.6" height="2.6" fill="#fff" stroke="#1a1a1a" stroke-width="0.85"/>
<rect x="152.7" y="206.4" width="2.6" height="2.6" fill="#fff" stroke="#1a1a1a" stroke-width="0.85"/>
<rect x="155.6" y="205.6" width="2.6" height="2.6" fill="#fff" stroke="#1a1a1a" stroke-width="0.85"/>
<rect x="158.5" y="204.9" width="2.6" height="2.6" fill="#fff" stroke="#1a1a1a" stroke-width="0.85"/>
<rect x="161.4" y="204.1" width="2.6" height="2.6" fill="#fff" stroke="#1a1a1a" stroke-width="0.85"/>
<rect x="164.3" y="203.3" width="2.6" height="2.6" fill="#fff" stroke="#1a1a1a" stroke-width="0.85"/>
<rect x="167.2" y="202.5" width="2.6" height="2.6" fill="#fff" stroke="#1a1a1a" stroke-width="0.85"/>
<rect x="170.1" y="201.7" width="2.6" height="2.6" fill="#fff" stroke="#1a1a1a" stroke-width="0.85"/>
<rect x="172.9" y="200.9" width="2.6" height="2.6" fill="#fff" stroke="#1a1a1a" stroke-width="0.85"/>
<rect x="175.8" y="200.1" width="2.6" height="2.6" fill="#fff" stroke="#1a1a1a" stroke-width="0.85"/>
<rect x="178.7" y="199.3" width="2.6" height="2.6" fill="#fff" stroke="#1a1a1a" stroke-width="0.85"/>
<rect x="181.6" y="198.5" width="2.6" height="2.6" fill="#fff" stroke="#1a1a1a" stroke-width="0.85"/>
<rect x="184.5" y="197.7" width="2.6" height="2.6" fill="#fff" stroke="#1a1a1a" stroke-width="0.85"/>
<rect x="187.4" y="197.0" width="2.6" height="2.6" fill="#fff" stroke="#1a1a1a" stroke-width="0.85"/>
<rect x="190.3" y="196.2" width="2.6" height="2.6" fill="#fff" stroke="#1a1a1a" stroke-width="0.85"/>
<rect x="193.2" y="195.4" width="2.6" height="2.6" fill="#fff" stroke="#1a1a1a" stroke-width="0.85"/>
<path d="M165.2,184.0 C165.6,185.8 165.4,192.8 167.5,195.0 C169.6,197.2 173.1,197.1 178.0,197.0 C182.9,196.9 193.8,194.9 197.0,194.5" fill="none" stroke="#1a1a1a" stroke-width="0.9"/>
<rect x="163.9" y="182.7" width="2.6" height="2.6" fill="#fff" stroke="#1a1a1a" stroke-width="0.85"/>
<rect x="164.2" y="186.3" width="2.6" height="2.6" fill="#fff" stroke="#1a1a1a" stroke-width="0.85"/>
<rect x="164.7" y="189.9" width="2.6" height="2.6" fill="#fff" stroke="#1a1a1a" stroke-width="0.85"/>
<rect x="165.9" y="193.2" width="2.6" height="2.6" fill="#fff" stroke="#1a1a1a" stroke-width="0.85"/>
<rect x="168.8" y="195.2" width="2.6" height="2.6" fill="#fff" stroke="#1a1a1a" stroke-width="0.85"/>
<rect x="172.3" y="195.7" width="2.6" height="2.6" fill="#fff" stroke="#1a1a1a" stroke-width="0.85"/>
<rect x="175.9" y="195.7" width="2.6" height="2.6" fill="#fff" stroke="#1a1a1a" stroke-width="0.85"/>
<rect x="179.5" y="195.5" width="2.6" height="2.6" fill="#fff" stroke="#1a1a1a" stroke-width="0.85"/>
<rect x="183.1" y="195.1" width="2.6" height="2.6" fill="#fff" stroke="#1a1a1a" stroke-width="0.85"/>
<rect x="186.7" y="194.6" width="2.6" height="2.6" fill="#fff" stroke="#1a1a1a" stroke-width="0.85"/>
<rect x="190.2" y="194.1" width="2.6" height="2.6" fill="#fff" stroke="#1a1a1a" stroke-width="0.85"/>
<rect x="193.8" y="193.5" width="2.6" height="2.6" fill="#fff" stroke="#1a1a1a" stroke-width="0.85"/>
<path d="M106.0,250.0 C106.7,248.1 107.5,241.5 110.0,238.3 C112.5,235.1 116.0,233.5 121.0,231.0 C126.0,228.5 132.5,226.1 140.0,223.2 C147.5,220.3 156.5,216.4 166.0,213.5 C175.5,210.6 191.8,206.8 197.0,205.5" fill="none" stroke="#b02828" stroke-width="0.9"/>
<path d="M106.0,248.4 L107.5,251.1 L104.5,251.1 Z" fill="#fff" stroke="#b02828" stroke-width="0.85"/>
<path d="M106.7,245.5 L108.2,248.2 L105.2,248.2 Z" fill="#fff" stroke="#b02828" stroke-width="0.85"/>
<path d="M107.4,242.6 L108.9,245.3 L105.9,245.3 Z" fill="#fff" stroke="#b02828" stroke-width="0.85"/>
<path d="M108.4,239.7 L109.9,242.4 L106.9,242.4 Z" fill="#fff" stroke="#b02828" stroke-width="0.85"/>
<path d="M109.8,237.1 L111.3,239.8 L108.3,239.8 Z" fill="#fff" stroke="#b02828" stroke-width="0.85"/>
<path d="M111.8,234.9 L113.3,237.6 L110.3,237.6 Z" fill="#fff" stroke="#b02828" stroke-width="0.85"/>
<path d="M114.2,233.1 L115.7,235.8 L112.7,235.8 Z" fill="#fff" stroke="#b02828" stroke-width="0.85"/>
<path d="M116.8,231.6 L118.3,234.3 L115.3,234.3 Z" fill="#fff" stroke="#b02828" stroke-width="0.85"/>
<path d="M119.4,230.2 L120.9,232.9 L117.9,232.9 Z" fill="#fff" stroke="#b02828" stroke-width="0.85"/>
<path d="M122.1,228.9 L123.6,231.6 L120.6,231.6 Z" fill="#fff" stroke="#b02828" stroke-width="0.85"/>
<path d="M124.8,227.6 L126.3,230.3 L123.3,230.3 Z" fill="#fff" stroke="#b02828" stroke-width="0.85"/>
<path d="M127.6,226.4 L129.1,229.1 L126.1,229.1 Z" fill="#fff" stroke="#b02828" stroke-width="0.85"/>
<path d="M130.4,225.3 L131.9,228.0 L128.9,228.0 Z" fill="#fff" stroke="#b02828" stroke-width="0.85"/>
<path d="M133.2,224.2 L134.7,226.9 L131.7,226.9 Z" fill="#fff" stroke="#b02828" stroke-width="0.85"/>
<path d="M136.0,223.2 L137.5,225.9 L134.5,225.9 Z" fill="#fff" stroke="#b02828" stroke-width="0.85"/>
<path d="M138.8,222.1 L140.3,224.8 L137.3,224.8 Z" fill="#fff" stroke="#b02828" stroke-width="0.85"/>
<path d="M141.6,221.0 L143.1,223.7 L140.1,223.7 Z" fill="#fff" stroke="#b02828" stroke-width="0.85"/>
<path d="M144.4,219.9 L145.9,222.6 L142.9,222.6 Z" fill="#fff" stroke="#b02828" stroke-width="0.85"/>
<path d="M147.2,218.8 L148.7,221.5 L145.7,221.5 Z" fill="#fff" stroke="#b02828" stroke-width="0.85"/>
<path d="M149.9,217.7 L151.4,220.4 L148.4,220.4 Z" fill="#fff" stroke="#b02828" stroke-width="0.85"/>
<path d="M152.7,216.6 L154.2,219.3 L151.2,219.3 Z" fill="#fff" stroke="#b02828" stroke-width="0.85"/>
<path d="M155.5,215.5 L157.0,218.2 L154.0,218.2 Z" fill="#fff" stroke="#b02828" stroke-width="0.85"/>
<path d="M158.4,214.5 L159.9,217.2 L156.9,217.2 Z" fill="#fff" stroke="#b02828" stroke-width="0.85"/>
<path d="M161.2,213.5 L162.7,216.2 L159.7,216.2 Z" fill="#fff" stroke="#b02828" stroke-width="0.85"/>
<path d="M164.0,212.5 L165.5,215.2 L162.5,215.2 Z" fill="#fff" stroke="#b02828" stroke-width="0.85"/>
<path d="M166.9,211.6 L168.4,214.3 L165.4,214.3 Z" fill="#fff" stroke="#b02828" stroke-width="0.85"/>
<path d="M169.8,210.8 L171.3,213.5 L168.3,213.5 Z" fill="#fff" stroke="#b02828" stroke-width="0.85"/>
<path d="M172.7,210.0 L174.2,212.7 L171.2,212.7 Z" fill="#fff" stroke="#b02828" stroke-width="0.85"/>
<path d="M175.6,209.2 L177.1,211.9 L174.1,211.9 Z" fill="#fff" stroke="#b02828" stroke-width="0.85"/>
<path d="M178.5,208.5 L180.0,211.2 L177.0,211.2 Z" fill="#fff" stroke="#b02828" stroke-width="0.85"/>
<path d="M181.4,207.7 L182.9,210.4 L179.9,210.4 Z" fill="#fff" stroke="#b02828" stroke-width="0.85"/>
<path d="M184.3,207.0 L185.8,209.7 L182.8,209.7 Z" fill="#fff" stroke="#b02828" stroke-width="0.85"/>
<path d="M187.2,206.3 L188.7,209.0 L185.7,209.0 Z" fill="#fff" stroke="#b02828" stroke-width="0.85"/>
<path d="M190.1,205.6 L191.6,208.3 L188.6,208.3 Z" fill="#fff" stroke="#b02828" stroke-width="0.85"/>
<path d="M193.0,204.9 L194.5,207.6 L191.5,207.6 Z" fill="#fff" stroke="#b02828" stroke-width="0.85"/>
<path d="M195.9,204.2 L197.4,206.9 L194.4,206.9 Z" fill="#fff" stroke="#b02828" stroke-width="0.85"/>
<path d="M156.0,217.0 C159.2,215.7 168.2,211.4 175.0,209.0 C181.8,206.6 193.3,203.6 197.0,202.5" fill="none" stroke="#b02828" stroke-width="0.9"/>
<path d="M156.0,215.4 L157.5,218.1 L154.5,218.1 Z" fill="#fff" stroke="#b02828" stroke-width="0.85"/>
<path d="M158.7,214.2 L160.2,216.9 L157.2,216.9 Z" fill="#fff" stroke="#b02828" stroke-width="0.85"/>
<path d="M161.5,213.0 L163.0,215.7 L160.0,215.7 Z" fill="#fff" stroke="#b02828" stroke-width="0.85"/>
<path d="M164.2,211.8 L165.7,214.5 L162.7,214.5 Z" fill="#fff" stroke="#b02828" stroke-width="0.85"/>
<path d="M167.0,210.6 L168.5,213.3 L165.5,213.3 Z" fill="#fff" stroke="#b02828" stroke-width="0.85"/>
<path d="M169.8,209.4 L171.3,212.1 L168.3,212.1 Z" fill="#fff" stroke="#b02828" stroke-width="0.85"/>
<path d="M172.5,208.3 L174.0,211.0 L171.0,211.0 Z" fill="#fff" stroke="#b02828" stroke-width="0.85"/>
<path d="M175.4,207.3 L176.9,210.0 L173.9,210.0 Z" fill="#fff" stroke="#b02828" stroke-width="0.85"/>
<path d="M178.2,206.3 L179.7,209.0 L176.7,209.0 Z" fill="#fff" stroke="#b02828" stroke-width="0.85"/>
<path d="M181.1,205.4 L182.6,208.1 L179.6,208.1 Z" fill="#fff" stroke="#b02828" stroke-width="0.85"/>
<path d="M183.9,204.6 L185.4,207.3 L182.4,207.3 Z" fill="#fff" stroke="#b02828" stroke-width="0.85"/>
<path d="M186.8,203.8 L188.3,206.5 L185.3,206.5 Z" fill="#fff" stroke="#b02828" stroke-width="0.85"/>
<path d="M189.7,202.9 L191.2,205.6 L188.2,205.6 Z" fill="#fff" stroke="#b02828" stroke-width="0.85"/>
<path d="M192.6,202.1 L194.1,204.8 L191.1,204.8 Z" fill="#fff" stroke="#b02828" stroke-width="0.85"/>
<path d="M195.5,201.3 L197.0,204.0 L194.0,204.0 Z" fill="#fff" stroke="#b02828" stroke-width="0.85"/>
<path d="M106.0,254.0 C106.7,252.1 107.5,245.3 110.0,242.3 C112.5,239.3 116.0,238.2 121.0,236.0 C126.0,233.8 132.5,231.8 140.0,229.2 C147.5,226.6 156.5,222.9 166.0,220.5 C175.5,218.1 191.8,215.5 197.0,214.5" fill="none" stroke="#1aa5a5" stroke-width="0.9"/>
<circle cx="106.0" cy="254.0" r="1.3" fill="#fff" stroke="#1aa5a5" stroke-width="0.85"/>
<circle cx="106.7" cy="251.1" r="1.3" fill="#fff" stroke="#1aa5a5" stroke-width="0.85"/>
<circle cx="107.4" cy="248.2" r="1.3" fill="#fff" stroke="#1aa5a5" stroke-width="0.85"/>
<circle cx="108.3" cy="245.3" r="1.3" fill="#fff" stroke="#1aa5a5" stroke-width="0.85"/>
<circle cx="109.7" cy="242.7" r="1.3" fill="#fff" stroke="#1aa5a5" stroke-width="0.85"/>
<circle cx="111.8" cy="240.5" r="1.3" fill="#fff" stroke="#1aa5a5" stroke-width="0.85"/>
<circle cx="114.4" cy="238.9" r="1.3" fill="#fff" stroke="#1aa5a5" stroke-width="0.85"/>
<circle cx="117.1" cy="237.7" r="1.3" fill="#fff" stroke="#1aa5a5" stroke-width="0.85"/>
<circle cx="119.8" cy="236.5" r="1.3" fill="#fff" stroke="#1aa5a5" stroke-width="0.85"/>
<circle cx="122.6" cy="235.3" r="1.3" fill="#fff" stroke="#1aa5a5" stroke-width="0.85"/>
<circle cx="125.4" cy="234.2" r="1.3" fill="#fff" stroke="#1aa5a5" stroke-width="0.85"/>
<circle cx="128.2" cy="233.2" r="1.3" fill="#fff" stroke="#1aa5a5" stroke-width="0.85"/>
<circle cx="131.1" cy="232.2" r="1.3" fill="#fff" stroke="#1aa5a5" stroke-width="0.85"/>
<circle cx="133.9" cy="231.3" r="1.3" fill="#fff" stroke="#1aa5a5" stroke-width="0.85"/>
<circle cx="136.7" cy="230.3" r="1.3" fill="#fff" stroke="#1aa5a5" stroke-width="0.85"/>
<circle cx="139.6" cy="229.3" r="1.3" fill="#fff" stroke="#1aa5a5" stroke-width="0.85"/>
<circle cx="142.4" cy="228.4" r="1.3" fill="#fff" stroke="#1aa5a5" stroke-width="0.85"/>
<circle cx="145.2" cy="227.3" r="1.3" fill="#fff" stroke="#1aa5a5" stroke-width="0.85"/>
<circle cx="148.1" cy="226.3" r="1.3" fill="#fff" stroke="#1aa5a5" stroke-width="0.85"/>
<circle cx="150.9" cy="225.3" r="1.3" fill="#fff" stroke="#1aa5a5" stroke-width="0.85"/>
<circle cx="153.7" cy="224.3" r="1.3" fill="#fff" stroke="#1aa5a5" stroke-width="0.85"/>
<circle cx="156.5" cy="223.3" r="1.3" fill="#fff" stroke="#1aa5a5" stroke-width="0.85"/>
<circle cx="159.4" cy="222.4" r="1.3" fill="#fff" stroke="#1aa5a5" stroke-width="0.85"/>
<circle cx="162.3" cy="221.5" r="1.3" fill="#fff" stroke="#1aa5a5" stroke-width="0.85"/>
<circle cx="165.2" cy="220.7" r="1.3" fill="#fff" stroke="#1aa5a5" stroke-width="0.85"/>
<circle cx="168.1" cy="220.0" r="1.3" fill="#fff" stroke="#1aa5a5" stroke-width="0.85"/>
<circle cx="171.0" cy="219.3" r="1.3" fill="#fff" stroke="#1aa5a5" stroke-width="0.85"/>
<circle cx="173.9" cy="218.7" r="1.3" fill="#fff" stroke="#1aa5a5" stroke-width="0.85"/>
<circle cx="176.9" cy="218.1" r="1.3" fill="#fff" stroke="#1aa5a5" stroke-width="0.85"/>
<circle cx="179.8" cy="217.6" r="1.3" fill="#fff" stroke="#1aa5a5" stroke-width="0.85"/>
<circle cx="182.8" cy="217.0" r="1.3" fill="#fff" stroke="#1aa5a5" stroke-width="0.85"/>
<circle cx="185.7" cy="216.5" r="1.3" fill="#fff" stroke="#1aa5a5" stroke-width="0.85"/>
<circle cx="188.7" cy="216.0" r="1.3" fill="#fff" stroke="#1aa5a5" stroke-width="0.85"/>
<circle cx="191.6" cy="215.5" r="1.3" fill="#fff" stroke="#1aa5a5" stroke-width="0.85"/>
<circle cx="194.6" cy="214.9" r="1.3" fill="#fff" stroke="#1aa5a5" stroke-width="0.85"/>
<path d="M150.0,212.0 C153.3,211.8 162.2,211.3 170.0,211.0 C177.8,210.7 192.5,210.2 197.0,210.0" fill="none" stroke="#1aa5a5" stroke-width="0.9"/>
<circle cx="150.0" cy="212.0" r="1.3" fill="#fff" stroke="#1aa5a5" stroke-width="0.85"/>
<circle cx="153.0" cy="211.8" r="1.3" fill="#fff" stroke="#1aa5a5" stroke-width="0.85"/>
<circle cx="156.0" cy="211.7" r="1.3" fill="#fff" stroke="#1aa5a5" stroke-width="0.85"/>
<circle cx="159.0" cy="211.5" r="1.3" fill="#fff" stroke="#1aa5a5" stroke-width="0.85"/>
<circle cx="162.0" cy="211.4" r="1.3" fill="#fff" stroke="#1aa5a5" stroke-width="0.85"/>
<circle cx="165.0" cy="211.2" r="1.3" fill="#fff" stroke="#1aa5a5" stroke-width="0.85"/>
<circle cx="168.0" cy="211.1" r="1.3" fill="#fff" stroke="#1aa5a5" stroke-width="0.85"/>
<circle cx="171.0" cy="211.0" r="1.3" fill="#fff" stroke="#1aa5a5" stroke-width="0.85"/>
<circle cx="174.0" cy="210.8" r="1.3" fill="#fff" stroke="#1aa5a5" stroke-width="0.85"/>
<circle cx="177.0" cy="210.7" r="1.3" fill="#fff" stroke="#1aa5a5" stroke-width="0.85"/>
<circle cx="180.0" cy="210.6" r="1.3" fill="#fff" stroke="#1aa5a5" stroke-width="0.85"/>
<circle cx="183.0" cy="210.5" r="1.3" fill="#fff" stroke="#1aa5a5" stroke-width="0.85"/>
<circle cx="186.0" cy="210.4" r="1.3" fill="#fff" stroke="#1aa5a5" stroke-width="0.85"/>
<circle cx="189.0" cy="210.3" r="1.3" fill="#fff" stroke="#1aa5a5" stroke-width="0.85"/>
<circle cx="192.0" cy="210.2" r="1.3" fill="#fff" stroke="#1aa5a5" stroke-width="0.85"/>
<circle cx="195.0" cy="210.1" r="1.3" fill="#fff" stroke="#1aa5a5" stroke-width="0.85"/>
<path d="M128.0,188.6 C129.3,188.3 132.0,187.4 135.7,187.0 C139.4,186.6 145.1,186.5 150.0,186.0 C154.9,185.5 162.7,184.3 165.2,184.0" fill="none" stroke="#1a1a1a" stroke-width="0.9"/>
<rect x="126.7" y="187.3" width="2.6" height="2.6" fill="#fff" stroke="#1a1a1a" stroke-width="0.85"/>
<rect x="129.6" y="186.6" width="2.6" height="2.6" fill="#fff" stroke="#1a1a1a" stroke-width="0.85"/>
<rect x="132.5" y="186.0" width="2.6" height="2.6" fill="#fff" stroke="#1a1a1a" stroke-width="0.85"/>
<rect x="135.5" y="185.6" width="2.6" height="2.6" fill="#fff" stroke="#1a1a1a" stroke-width="0.85"/>
<rect x="138.5" y="185.4" width="2.6" height="2.6" fill="#fff" stroke="#1a1a1a" stroke-width="0.85"/>
<rect x="141.5" y="185.2" width="2.6" height="2.6" fill="#fff" stroke="#1a1a1a" stroke-width="0.85"/>
<rect x="144.5" y="185.0" width="2.6" height="2.6" fill="#fff" stroke="#1a1a1a" stroke-width="0.85"/>
<rect x="147.5" y="184.8" width="2.6" height="2.6" fill="#fff" stroke="#1a1a1a" stroke-width="0.85"/>
<rect x="150.5" y="184.5" width="2.6" height="2.6" fill="#fff" stroke="#1a1a1a" stroke-width="0.85"/>
<rect x="153.5" y="184.1" width="2.6" height="2.6" fill="#fff" stroke="#1a1a1a" stroke-width="0.85"/>
<rect x="156.4" y="183.7" width="2.6" height="2.6" fill="#fff" stroke="#1a1a1a" stroke-width="0.85"/>
<rect x="159.4" y="183.3" width="2.6" height="2.6" fill="#fff" stroke="#1a1a1a" stroke-width="0.85"/>
<rect x="162.4" y="182.9" width="2.6" height="2.6" fill="#fff" stroke="#1a1a1a" stroke-width="0.85"/>
<path d="M105.8,213.0 C106.2,211.6 106.7,207.2 108.0,204.5 C109.3,201.8 111.0,199.2 113.4,197.0 C115.9,194.8 119.0,192.6 122.7,191.0 C126.4,189.4 131.1,188.1 135.7,187.3 C140.2,186.6 147.6,186.6 150.0,186.5" fill="none" stroke="#1aa5a5" stroke-width="0.9"/>
<circle cx="105.8" cy="213.0" r="1.3" fill="#fff" stroke="#1aa5a5" stroke-width="0.85"/>
<circle cx="106.4" cy="210.1" r="1.3" fill="#fff" stroke="#1aa5a5" stroke-width="0.85"/>
<circle cx="107.1" cy="207.1" r="1.3" fill="#fff" stroke="#1aa5a5" stroke-width="0.85"/>
<circle cx="108.1" cy="204.3" r="1.3" fill="#fff" stroke="#1aa5a5" stroke-width="0.85"/>
<circle cx="109.5" cy="201.7" r="1.3" fill="#fff" stroke="#1aa5a5" stroke-width="0.85"/>
<circle cx="111.3" cy="199.3" r="1.3" fill="#fff" stroke="#1aa5a5" stroke-width="0.85"/>
<circle cx="113.3" cy="197.1" r="1.3" fill="#fff" stroke="#1aa5a5" stroke-width="0.85"/>
<circle cx="115.6" cy="195.1" r="1.3" fill="#fff" stroke="#1aa5a5" stroke-width="0.85"/>
<circle cx="118.1" cy="193.4" r="1.3" fill="#fff" stroke="#1aa5a5" stroke-width="0.85"/>
<circle cx="120.7" cy="192.0" r="1.3" fill="#fff" stroke="#1aa5a5" stroke-width="0.85"/>
<circle cx="123.4" cy="190.7" r="1.3" fill="#fff" stroke="#1aa5a5" stroke-width="0.85"/>
<circle cx="126.2" cy="189.7" r="1.3" fill="#fff" stroke="#1aa5a5" stroke-width="0.85"/>
<circle cx="129.1" cy="188.8" r="1.3" fill="#fff" stroke="#1aa5a5" stroke-width="0.85"/>
<circle cx="132.0" cy="188.0" r="1.3" fill="#fff" stroke="#1aa5a5" stroke-width="0.85"/>
<circle cx="134.9" cy="187.4" r="1.3" fill="#fff" stroke="#1aa5a5" stroke-width="0.85"/>
<circle cx="137.9" cy="187.0" r="1.3" fill="#fff" stroke="#1aa5a5" stroke-width="0.85"/>
<circle cx="140.9" cy="186.8" r="1.3" fill="#fff" stroke="#1aa5a5" stroke-width="0.85"/>
<circle cx="143.9" cy="186.7" r="1.3" fill="#fff" stroke="#1aa5a5" stroke-width="0.85"/>
<circle cx="146.9" cy="186.6" r="1.3" fill="#fff" stroke="#1aa5a5" stroke-width="0.85"/>
<circle cx="149.9" cy="186.5" r="1.3" fill="#fff" stroke="#1aa5a5" stroke-width="0.85"/>
<path d="M150.0,187.0 C151.0,186.9 155.0,186.6 156.0,186.5" fill="none" stroke="#b02828" stroke-width="0.9"/>
<path d="M150.0,185.4 L151.5,188.1 L148.5,188.1 Z" fill="#fff" stroke="#b02828" stroke-width="0.85"/>
<path d="M153.0,185.2 L154.5,187.9 L151.5,187.9 Z" fill="#fff" stroke="#b02828" stroke-width="0.85"/>
<path d="M156.0,184.9 L157.5,187.6 L154.5,187.6 Z" fill="#fff" stroke="#b02828" stroke-width="0.85"/>
<path d="M150.1,187 V212" stroke="#1aa5a5" stroke-width="0.9"/>
<path d="M156.1,186.5 V217" stroke="#b02828" stroke-width="0.9"/>
<path d="M44.8,183.6 C47.3,184.0 53.6,183.8 60.0,185.8 C66.4,187.8 78.2,193.4 83.4,195.4 C88.6,197.4 88.7,196.7 91.1,198.0 C93.5,199.3 95.8,201.1 97.6,203.0 C99.4,204.9 100.9,207.7 101.9,209.5 C102.9,211.3 103.2,213.2 103.4,214.0" fill="none" stroke="#9a20b0" stroke-width="1.8"/>
<circle cx="44.8" cy="183.6" r="1.25" fill="#fff" stroke="#9a20b0" stroke-width="0.85"/>
<circle cx="47.4" cy="183.8" r="1.25" fill="#fff" stroke="#9a20b0" stroke-width="0.85"/>
<circle cx="50.0" cy="184.0" r="1.25" fill="#fff" stroke="#9a20b0" stroke-width="0.85"/>
<circle cx="52.6" cy="184.3" r="1.25" fill="#fff" stroke="#9a20b0" stroke-width="0.85"/>
<circle cx="55.1" cy="184.7" r="1.25" fill="#fff" stroke="#9a20b0" stroke-width="0.85"/>
<circle cx="57.7" cy="185.2" r="1.25" fill="#fff" stroke="#9a20b0" stroke-width="0.85"/>
<circle cx="60.2" cy="185.9" r="1.25" fill="#fff" stroke="#9a20b0" stroke-width="0.85"/>
<circle cx="62.7" cy="186.7" r="1.25" fill="#fff" stroke="#9a20b0" stroke-width="0.85"/>
<circle cx="65.1" cy="187.6" r="1.25" fill="#fff" stroke="#9a20b0" stroke-width="0.85"/>
<circle cx="67.5" cy="188.6" r="1.25" fill="#fff" stroke="#9a20b0" stroke-width="0.85"/>
<circle cx="69.9" cy="189.6" r="1.25" fill="#fff" stroke="#9a20b0" stroke-width="0.85"/>
<circle cx="72.3" cy="190.6" r="1.25" fill="#fff" stroke="#9a20b0" stroke-width="0.85"/>
<circle cx="74.7" cy="191.7" r="1.25" fill="#fff" stroke="#9a20b0" stroke-width="0.85"/>
<circle cx="77.1" cy="192.7" r="1.25" fill="#fff" stroke="#9a20b0" stroke-width="0.85"/>
<circle cx="79.4" cy="193.7" r="1.25" fill="#fff" stroke="#9a20b0" stroke-width="0.85"/>
<circle cx="81.8" cy="194.8" r="1.25" fill="#fff" stroke="#9a20b0" stroke-width="0.85"/>
<circle cx="84.2" cy="195.7" r="1.25" fill="#fff" stroke="#9a20b0" stroke-width="0.85"/>
<circle cx="86.7" cy="196.6" r="1.25" fill="#fff" stroke="#9a20b0" stroke-width="0.85"/>
<circle cx="89.2" cy="197.2" r="1.25" fill="#fff" stroke="#9a20b0" stroke-width="0.85"/>
<circle cx="91.6" cy="198.3" r="1.25" fill="#fff" stroke="#9a20b0" stroke-width="0.85"/>
<circle cx="93.8" cy="199.7" r="1.25" fill="#fff" stroke="#9a20b0" stroke-width="0.85"/>
<circle cx="95.8" cy="201.3" r="1.25" fill="#fff" stroke="#9a20b0" stroke-width="0.85"/>
<circle cx="97.7" cy="203.1" r="1.25" fill="#fff" stroke="#9a20b0" stroke-width="0.85"/>
<circle cx="99.3" cy="205.1" r="1.25" fill="#fff" stroke="#9a20b0" stroke-width="0.85"/>
<circle cx="100.7" cy="207.3" r="1.25" fill="#fff" stroke="#9a20b0" stroke-width="0.85"/>
<circle cx="101.9" cy="209.6" r="1.25" fill="#fff" stroke="#9a20b0" stroke-width="0.85"/>
<circle cx="102.9" cy="212.0" r="1.25" fill="#fff" stroke="#9a20b0" stroke-width="0.85"/>
<path d="M104.5,260.0 C103.4,258.7 100.1,254.5 98.0,252.0 C95.9,249.5 93.7,247.3 92.0,245.0 C90.3,242.7 88.4,239.4 87.7,238.3" fill="none" stroke="#9a20b0" stroke-width="1.4"/>
<circle cx="104.5" cy="260.0" r="1.3" fill="#fff" stroke="#9a20b0" stroke-width="0.85"/>
<circle cx="102.7" cy="257.8" r="1.3" fill="#fff" stroke="#9a20b0" stroke-width="0.85"/>
<circle cx="101.0" cy="255.6" r="1.3" fill="#fff" stroke="#9a20b0" stroke-width="0.85"/>
<circle cx="99.2" cy="253.5" r="1.3" fill="#fff" stroke="#9a20b0" stroke-width="0.85"/>
<circle cx="97.4" cy="251.3" r="1.3" fill="#fff" stroke="#9a20b0" stroke-width="0.85"/>
<circle cx="95.6" cy="249.2" r="1.3" fill="#fff" stroke="#9a20b0" stroke-width="0.85"/>
<circle cx="93.7" cy="247.1" r="1.3" fill="#fff" stroke="#9a20b0" stroke-width="0.85"/>
<circle cx="92.0" cy="244.9" r="1.3" fill="#fff" stroke="#9a20b0" stroke-width="0.85"/>
<circle cx="90.4" cy="242.6" r="1.3" fill="#fff" stroke="#9a20b0" stroke-width="0.85"/>
<circle cx="88.9" cy="240.3" r="1.3" fill="#fff" stroke="#9a20b0" stroke-width="0.85"/>
<path d="M106.0,260.0 C106.7,258.1 107.5,251.1 110.0,248.3 C112.5,245.5 116.0,245.0 121.0,243.0 C126.0,241.0 132.5,238.7 140.0,236.2 C147.5,233.7 156.5,230.4 166.0,228.0 C175.5,225.6 191.8,223.0 197.0,222.0" fill="none" stroke="#9a20b0" stroke-width="1.4"/>
<circle cx="106.0" cy="260.0" r="1.3" fill="#fff" stroke="#9a20b0" stroke-width="0.85"/>
<circle cx="106.7" cy="257.3" r="1.3" fill="#fff" stroke="#9a20b0" stroke-width="0.85"/>
<circle cx="107.3" cy="254.6" r="1.3" fill="#fff" stroke="#9a20b0" stroke-width="0.85"/>
<circle cx="108.1" cy="251.9" r="1.3" fill="#fff" stroke="#9a20b0" stroke-width="0.85"/>
<circle cx="109.3" cy="249.3" r="1.3" fill="#fff" stroke="#9a20b0" stroke-width="0.85"/>
<circle cx="111.1" cy="247.2" r="1.3" fill="#fff" stroke="#9a20b0" stroke-width="0.85"/>
<circle cx="113.5" cy="245.8" r="1.3" fill="#fff" stroke="#9a20b0" stroke-width="0.85"/>
<circle cx="116.1" cy="244.8" r="1.3" fill="#fff" stroke="#9a20b0" stroke-width="0.85"/>
<circle cx="118.8" cy="243.8" r="1.3" fill="#fff" stroke="#9a20b0" stroke-width="0.85"/>
<circle cx="121.4" cy="242.9" r="1.3" fill="#fff" stroke="#9a20b0" stroke-width="0.85"/>
<circle cx="124.0" cy="241.8" r="1.3" fill="#fff" stroke="#9a20b0" stroke-width="0.85"/>
<circle cx="126.6" cy="240.9" r="1.3" fill="#fff" stroke="#9a20b0" stroke-width="0.85"/>
<circle cx="129.2" cy="239.9" r="1.3" fill="#fff" stroke="#9a20b0" stroke-width="0.85"/>
<circle cx="131.9" cy="239.0" r="1.3" fill="#fff" stroke="#9a20b0" stroke-width="0.85"/>
<circle cx="134.5" cy="238.1" r="1.3" fill="#fff" stroke="#9a20b0" stroke-width="0.85"/>
<circle cx="137.2" cy="237.1" r="1.3" fill="#fff" stroke="#9a20b0" stroke-width="0.85"/>
<circle cx="139.8" cy="236.3" r="1.3" fill="#fff" stroke="#9a20b0" stroke-width="0.85"/>
<circle cx="142.5" cy="235.4" r="1.3" fill="#fff" stroke="#9a20b0" stroke-width="0.85"/>
<circle cx="145.1" cy="234.5" r="1.3" fill="#fff" stroke="#9a20b0" stroke-width="0.85"/>
<circle cx="147.8" cy="233.6" r="1.3" fill="#fff" stroke="#9a20b0" stroke-width="0.85"/>
<circle cx="150.4" cy="232.7" r="1.3" fill="#fff" stroke="#9a20b0" stroke-width="0.85"/>
<circle cx="153.1" cy="231.8" r="1.3" fill="#fff" stroke="#9a20b0" stroke-width="0.85"/>
<circle cx="155.8" cy="230.9" r="1.3" fill="#fff" stroke="#9a20b0" stroke-width="0.85"/>
<circle cx="158.4" cy="230.1" r="1.3" fill="#fff" stroke="#9a20b0" stroke-width="0.85"/>
<circle cx="161.1" cy="229.3" r="1.3" fill="#fff" stroke="#9a20b0" stroke-width="0.85"/>
<circle cx="163.8" cy="228.6" r="1.3" fill="#fff" stroke="#9a20b0" stroke-width="0.85"/>
<circle cx="166.5" cy="227.9" r="1.3" fill="#fff" stroke="#9a20b0" stroke-width="0.85"/>
<circle cx="169.3" cy="227.2" r="1.3" fill="#fff" stroke="#9a20b0" stroke-width="0.85"/>
<circle cx="172.0" cy="226.7" r="1.3" fill="#fff" stroke="#9a20b0" stroke-width="0.85"/>
<circle cx="174.7" cy="226.1" r="1.3" fill="#fff" stroke="#9a20b0" stroke-width="0.85"/>
<circle cx="177.5" cy="225.5" r="1.3" fill="#fff" stroke="#9a20b0" stroke-width="0.85"/>
<circle cx="180.2" cy="225.0" r="1.3" fill="#fff" stroke="#9a20b0" stroke-width="0.85"/>
<circle cx="183.0" cy="224.5" r="1.3" fill="#fff" stroke="#9a20b0" stroke-width="0.85"/>
<circle cx="185.7" cy="224.0" r="1.3" fill="#fff" stroke="#9a20b0" stroke-width="0.85"/>
<circle cx="188.5" cy="223.5" r="1.3" fill="#fff" stroke="#9a20b0" stroke-width="0.85"/>
<circle cx="191.3" cy="223.0" r="1.3" fill="#fff" stroke="#9a20b0" stroke-width="0.85"/>
<circle cx="194.0" cy="222.5" r="1.3" fill="#fff" stroke="#9a20b0" stroke-width="0.85"/>
<circle cx="196.8" cy="222.0" r="1.3" fill="#fff" stroke="#9a20b0" stroke-width="0.85"/>
<path d="M142.0,231.0 C146.7,229.8 160.8,226.2 170.0,224.0 C179.2,221.8 192.5,219.0 197.0,218.0" fill="none" stroke="#9a20b0" stroke-width="1.0"/>
<circle cx="142.0" cy="231.0" r="1.3" fill="#fff" stroke="#9a20b0" stroke-width="0.85"/>
<circle cx="145.9" cy="230.0" r="1.3" fill="#fff" stroke="#9a20b0" stroke-width="0.85"/>
<circle cx="149.8" cy="229.0" r="1.3" fill="#fff" stroke="#9a20b0" stroke-width="0.85"/>
<circle cx="153.6" cy="228.0" r="1.3" fill="#fff" stroke="#9a20b0" stroke-width="0.85"/>
<circle cx="157.5" cy="227.1" r="1.3" fill="#fff" stroke="#9a20b0" stroke-width="0.85"/>
<circle cx="161.4" cy="226.1" r="1.3" fill="#fff" stroke="#9a20b0" stroke-width="0.85"/>
<circle cx="165.3" cy="225.1" r="1.3" fill="#fff" stroke="#9a20b0" stroke-width="0.85"/>
<circle cx="169.2" cy="224.2" r="1.3" fill="#fff" stroke="#9a20b0" stroke-width="0.85"/>
<circle cx="173.1" cy="223.3" r="1.3" fill="#fff" stroke="#9a20b0" stroke-width="0.85"/>
<circle cx="177.0" cy="222.4" r="1.3" fill="#fff" stroke="#9a20b0" stroke-width="0.85"/>
<circle cx="180.9" cy="221.5" r="1.3" fill="#fff" stroke="#9a20b0" stroke-width="0.85"/>
<circle cx="184.8" cy="220.7" r="1.3" fill="#fff" stroke="#9a20b0" stroke-width="0.85"/>
<circle cx="188.7" cy="219.8" r="1.3" fill="#fff" stroke="#9a20b0" stroke-width="0.85"/>
<circle cx="192.6" cy="219.0" r="1.3" fill="#fff" stroke="#9a20b0" stroke-width="0.85"/>
<circle cx="196.5" cy="218.1" r="1.3" fill="#fff" stroke="#9a20b0" stroke-width="0.85"/>
<path d="M105.8,213.5 C106.2,212.2 106.7,208.1 108.0,205.5 C109.3,202.9 111.0,200.2 113.4,198.0 C115.9,195.8 119.0,193.6 122.7,192.0 C126.4,190.4 132.5,189.3 135.7,188.6 C138.9,187.9 140.9,187.8 142.0,187.6" fill="none" stroke="#9a20b0" stroke-width="1.8"/>
<circle cx="105.8" cy="213.5" r="1.25" fill="#fff" stroke="#9a20b0" stroke-width="0.85"/>
<circle cx="106.3" cy="211.0" r="1.25" fill="#fff" stroke="#9a20b0" stroke-width="0.85"/>
<circle cx="107.0" cy="208.4" r="1.25" fill="#fff" stroke="#9a20b0" stroke-width="0.85"/>
<circle cx="107.8" cy="206.0" r="1.25" fill="#fff" stroke="#9a20b0" stroke-width="0.85"/>
<circle cx="109.0" cy="203.7" r="1.25" fill="#fff" stroke="#9a20b0" stroke-width="0.85"/>
<circle cx="110.4" cy="201.5" r="1.25" fill="#fff" stroke="#9a20b0" stroke-width="0.85"/>
<circle cx="112.0" cy="199.4" r="1.25" fill="#fff" stroke="#9a20b0" stroke-width="0.85"/>
<circle cx="113.8" cy="197.6" r="1.25" fill="#fff" stroke="#9a20b0" stroke-width="0.85"/>
<circle cx="115.9" cy="196.0" r="1.25" fill="#fff" stroke="#9a20b0" stroke-width="0.85"/>
<circle cx="118.0" cy="194.5" r="1.25" fill="#fff" stroke="#9a20b0" stroke-width="0.85"/>
<circle cx="120.2" cy="193.2" r="1.25" fill="#fff" stroke="#9a20b0" stroke-width="0.85"/>
<circle cx="122.6" cy="192.1" r="1.25" fill="#fff" stroke="#9a20b0" stroke-width="0.85"/>
<circle cx="125.0" cy="191.2" r="1.25" fill="#fff" stroke="#9a20b0" stroke-width="0.85"/>
<circle cx="127.5" cy="190.5" r="1.25" fill="#fff" stroke="#9a20b0" stroke-width="0.85"/>
<circle cx="130.0" cy="189.8" r="1.25" fill="#fff" stroke="#9a20b0" stroke-width="0.85"/>
<circle cx="132.6" cy="189.3" r="1.25" fill="#fff" stroke="#9a20b0" stroke-width="0.85"/>
<circle cx="135.1" cy="188.7" r="1.25" fill="#fff" stroke="#9a20b0" stroke-width="0.85"/>
<circle cx="137.7" cy="188.2" r="1.25" fill="#fff" stroke="#9a20b0" stroke-width="0.85"/>
<circle cx="140.2" cy="187.8" r="1.25" fill="#fff" stroke="#9a20b0" stroke-width="0.85"/>
<path d="M87.7,238.3 V199 M142,187.6 V231 M104,214 L104.3,293" stroke="#9a20b0" stroke-width="1.2" fill="none"/>
<path d="M102.5,250 L104.3,285" stroke="#1aa5a5" stroke-width="1"/>
<rect x="44.5" y="172.7" width="152.9" height="121.40000000000003" fill="none" stroke="#111" stroke-width="1.3"/>
<line x1="44.5" y1="178.5" x2="47.5" y2="178.5" stroke="#111" stroke-width="1"/>
<line x1="44.5" y1="173.5" x2="46.3" y2="173.5" stroke="#111" stroke-width="1"/>
<line x1="44.5" y1="195.0" x2="47.5" y2="195.0" stroke="#111" stroke-width="1"/>
<line x1="44.5" y1="190.0" x2="46.3" y2="190.0" stroke="#111" stroke-width="1"/>
<line x1="44.5" y1="187.1" x2="46.3" y2="187.1" stroke="#111" stroke-width="1"/>
<line x1="44.5" y1="185.1" x2="46.3" y2="185.1" stroke="#111" stroke-width="1"/>
<line x1="44.5" y1="183.5" x2="46.3" y2="183.5" stroke="#111" stroke-width="1"/>
<line x1="44.5" y1="182.2" x2="46.3" y2="182.2" stroke="#111" stroke-width="1"/>
<line x1="44.5" y1="181.1" x2="46.3" y2="181.1" stroke="#111" stroke-width="1"/>
<line x1="44.5" y1="180.1" x2="46.3" y2="180.1" stroke="#111" stroke-width="1"/>
<line x1="44.5" y1="179.3" x2="46.3" y2="179.3" stroke="#111" stroke-width="1"/>
<line x1="44.5" y1="211.5" x2="47.5" y2="211.5" stroke="#111" stroke-width="1"/>
<line x1="44.5" y1="206.5" x2="46.3" y2="206.5" stroke="#111" stroke-width="1"/>
<line x1="44.5" y1="203.6" x2="46.3" y2="203.6" stroke="#111" stroke-width="1"/>
<line x1="44.5" y1="201.6" x2="46.3" y2="201.6" stroke="#111" stroke-width="1"/>
<line x1="44.5" y1="200.0" x2="46.3" y2="200.0" stroke="#111" stroke-width="1"/>
<line x1="44.5" y1="198.7" x2="46.3" y2="198.7" stroke="#111" stroke-width="1"/>
<line x1="44.5" y1="197.6" x2="46.3" y2="197.6" stroke="#111" stroke-width="1"/>
<line x1="44.5" y1="196.6" x2="46.3" y2="196.6" stroke="#111" stroke-width="1"/>
<line x1="44.5" y1="195.8" x2="46.3" y2="195.8" stroke="#111" stroke-width="1"/>
<line x1="44.5" y1="228.0" x2="47.5" y2="228.0" stroke="#111" stroke-width="1"/>
<line x1="44.5" y1="223.0" x2="46.3" y2="223.0" stroke="#111" stroke-width="1"/>
<line x1="44.5" y1="220.1" x2="46.3" y2="220.1" stroke="#111" stroke-width="1"/>
<line x1="44.5" y1="218.1" x2="46.3" y2="218.1" stroke="#111" stroke-width="1"/>
<line x1="44.5" y1="216.5" x2="46.3" y2="216.5" stroke="#111" stroke-width="1"/>
<line x1="44.5" y1="215.2" x2="46.3" y2="215.2" stroke="#111" stroke-width="1"/>
<line x1="44.5" y1="214.1" x2="46.3" y2="214.1" stroke="#111" stroke-width="1"/>
<line x1="44.5" y1="213.1" x2="46.3" y2="213.1" stroke="#111" stroke-width="1"/>
<line x1="44.5" y1="212.3" x2="46.3" y2="212.3" stroke="#111" stroke-width="1"/>
<line x1="44.5" y1="244.5" x2="47.5" y2="244.5" stroke="#111" stroke-width="1"/>
<line x1="44.5" y1="239.5" x2="46.3" y2="239.5" stroke="#111" stroke-width="1"/>
<line x1="44.5" y1="236.6" x2="46.3" y2="236.6" stroke="#111" stroke-width="1"/>
<line x1="44.5" y1="234.6" x2="46.3" y2="234.6" stroke="#111" stroke-width="1"/>
<line x1="44.5" y1="233.0" x2="46.3" y2="233.0" stroke="#111" stroke-width="1"/>
<line x1="44.5" y1="231.7" x2="46.3" y2="231.7" stroke="#111" stroke-width="1"/>
<line x1="44.5" y1="230.6" x2="46.3" y2="230.6" stroke="#111" stroke-width="1"/>
<line x1="44.5" y1="229.6" x2="46.3" y2="229.6" stroke="#111" stroke-width="1"/>
<line x1="44.5" y1="228.8" x2="46.3" y2="228.8" stroke="#111" stroke-width="1"/>
<line x1="44.5" y1="261.0" x2="47.5" y2="261.0" stroke="#111" stroke-width="1"/>
<line x1="44.5" y1="256.0" x2="46.3" y2="256.0" stroke="#111" stroke-width="1"/>
<line x1="44.5" y1="253.1" x2="46.3" y2="253.1" stroke="#111" stroke-width="1"/>
<line x1="44.5" y1="251.1" x2="46.3" y2="251.1" stroke="#111" stroke-width="1"/>
<line x1="44.5" y1="249.5" x2="46.3" y2="249.5" stroke="#111" stroke-width="1"/>
<line x1="44.5" y1="248.2" x2="46.3" y2="248.2" stroke="#111" stroke-width="1"/>
<line x1="44.5" y1="247.1" x2="46.3" y2="247.1" stroke="#111" stroke-width="1"/>
<line x1="44.5" y1="246.1" x2="46.3" y2="246.1" stroke="#111" stroke-width="1"/>
<line x1="44.5" y1="245.3" x2="46.3" y2="245.3" stroke="#111" stroke-width="1"/>
<line x1="44.5" y1="277.5" x2="47.5" y2="277.5" stroke="#111" stroke-width="1"/>
<line x1="44.5" y1="272.5" x2="46.3" y2="272.5" stroke="#111" stroke-width="1"/>
<line x1="44.5" y1="269.6" x2="46.3" y2="269.6" stroke="#111" stroke-width="1"/>
<line x1="44.5" y1="267.6" x2="46.3" y2="267.6" stroke="#111" stroke-width="1"/>
<line x1="44.5" y1="266.0" x2="46.3" y2="266.0" stroke="#111" stroke-width="1"/>
<line x1="44.5" y1="264.7" x2="46.3" y2="264.7" stroke="#111" stroke-width="1"/>
<line x1="44.5" y1="263.6" x2="46.3" y2="263.6" stroke="#111" stroke-width="1"/>
<line x1="44.5" y1="262.6" x2="46.3" y2="262.6" stroke="#111" stroke-width="1"/>
<line x1="44.5" y1="261.8" x2="46.3" y2="261.8" stroke="#111" stroke-width="1"/>
<line x1="44.5" y1="294.0" x2="47.5" y2="294.0" stroke="#111" stroke-width="1"/>
<line x1="44.5" y1="289.0" x2="46.3" y2="289.0" stroke="#111" stroke-width="1"/>
<line x1="44.5" y1="286.1" x2="46.3" y2="286.1" stroke="#111" stroke-width="1"/>
<line x1="44.5" y1="284.1" x2="46.3" y2="284.1" stroke="#111" stroke-width="1"/>
<line x1="44.5" y1="282.5" x2="46.3" y2="282.5" stroke="#111" stroke-width="1"/>
<line x1="44.5" y1="281.2" x2="46.3" y2="281.2" stroke="#111" stroke-width="1"/>
<line x1="44.5" y1="280.1" x2="46.3" y2="280.1" stroke="#111" stroke-width="1"/>
<line x1="44.5" y1="279.1" x2="46.3" y2="279.1" stroke="#111" stroke-width="1"/>
<line x1="44.5" y1="278.3" x2="46.3" y2="278.3" stroke="#111" stroke-width="1"/>
<text x="43.6" y="182.5" font-family='"Liberation Serif", serif' font-size="11.8" text-anchor="end" stroke="#000" stroke-width="0.25">10<tspan font-size="9" dy="-4.6" dx="0.5">−1</tspan></text>
<text x="43.6" y="215" font-family='"Liberation Serif", serif' font-size="11.8" text-anchor="end" stroke="#000" stroke-width="0.25">10<tspan font-size="9" dy="-4.6" dx="0.5">−3</tspan></text>
<text x="43.6" y="248.5" font-family='"Liberation Serif", serif' font-size="11.8" text-anchor="end" stroke="#000" stroke-width="0.25">10<tspan font-size="9" dy="-4.6" dx="0.5">−5</tspan></text>
<text x="43.6" y="281" font-family='"Liberation Serif", serif' font-size="11.8" text-anchor="end" stroke="#000" stroke-width="0.25">10<tspan font-size="9" dy="-4.6" dx="0.5">−7</tspan></text>
<line x1="43.6" y1="294.1" x2="43.6" y2="291.6" stroke="#111" stroke-width="1"/>
<text x="43.6" y="305.6" font-size="10.3" fill="#000" font-family='"Liberation Sans", sans-serif' text-anchor="middle" font-weight="normal"  stroke="#000" stroke-width="0.25">-2</text>
<line x1="74.3" y1="294.1" x2="74.3" y2="291.6" stroke="#111" stroke-width="1"/>
<text x="74.3" y="305.6" font-size="10.3" fill="#000" font-family='"Liberation Sans", sans-serif' text-anchor="middle" font-weight="normal"  stroke="#000" stroke-width="0.25">-1</text>
<line x1="105.0" y1="294.1" x2="105.0" y2="291.6" stroke="#111" stroke-width="1"/>
<text x="105.0" y="305.6" font-size="10.3" fill="#000" font-family='"Liberation Sans", sans-serif' text-anchor="middle" font-weight="normal"  stroke="#000" stroke-width="0.25">0</text>
<line x1="135.7" y1="294.1" x2="135.7" y2="291.6" stroke="#111" stroke-width="1"/>
<text x="135.7" y="305.6" font-size="10.3" fill="#000" font-family='"Liberation Sans", sans-serif' text-anchor="middle" font-weight="normal"  stroke="#000" stroke-width="0.25">1</text>
<line x1="166.4" y1="294.1" x2="166.4" y2="291.6" stroke="#111" stroke-width="1"/>
<text x="166.4" y="305.6" font-size="10.3" fill="#000" font-family='"Liberation Sans", sans-serif' text-anchor="middle" font-weight="normal"  stroke="#000" stroke-width="0.25">2</text>
<line x1="197.0" y1="294.1" x2="197.0" y2="291.6" stroke="#111" stroke-width="1"/>
<text x="197.0" y="305.6" font-size="10.3" fill="#000" font-family='"Liberation Sans", sans-serif' text-anchor="middle" font-weight="normal"  stroke="#000" stroke-width="0.25">3</text>
<text x="114.1" y="315" font-size="12.2" fill="#000" font-family='"Liberation Sans", sans-serif' text-anchor="middle" font-weight="normal"  stroke="#000" stroke-width="0.3">Voltage (V)</text>
<text transform="translate(14.3,239.5) rotate(-90)" font-size="12.6" font-family='"Liberation Sans", sans-serif' text-anchor="middle" stroke="#000" stroke-width="0.3">Current (A)</text>
<text x="61.5" y="267.6" font-size="10.5" fill="#111" font-family='"Liberation Sans", sans-serif' text-anchor="start" font-weight="normal"  stroke="#111" stroke-width="0.25">Dark</text>
<text x="54.4" y="281" font-size="10.5" fill="#1a9090" font-family='"Liberation Sans", sans-serif' text-anchor="start" font-weight="normal"  stroke="#1a9090" stroke-width="0.25">500 nm</text>
<text x="143.8" y="267.6" font-size="10.5" fill="#a02828" font-family='"Liberation Sans", sans-serif' text-anchor="start" font-weight="normal"  stroke="#a02828" stroke-width="0.25">785 nm</text>
<text x="142.7" y="281" font-size="10.5" fill="#8a1a9a" font-family='"Liberation Sans", sans-serif' text-anchor="start" font-weight="normal"  stroke="#8a1a9a" stroke-width="0.25">380 nm</text>
<text x="91" y="184.1" font-size="11" fill="#000" font-family='"Liberation Serif", serif' text-anchor="start" font-weight="normal"  stroke="#000" stroke-width="0.25">6</text>
<line x1="85.2" y1="183.6" x2="96.9" y2="189.1" stroke="#111" stroke-width="1.3"/>
<path d="M101.9,191.4 L95.8,191.4 L98.0,186.7 Z" fill="#111"/>
<text x="116.3" y="184.1" font-size="11" fill="#000" font-family='"Liberation Serif", serif' text-anchor="start" font-weight="normal"  stroke="#000" stroke-width="0.25">1</text>
<line x1="113.4" y1="188.8" x2="126.5" y2="184.1" stroke="#111" stroke-width="1.3"/>
<path d="M131.7,182.3 L127.4,186.6 L125.6,181.7 Z" fill="#111"/>
<text x="128.8" y="207.1" font-size="11" fill="#000" font-family='"Liberation Serif", serif' text-anchor="start" font-weight="normal"  stroke="#000" stroke-width="0.25">2</text>
<line x1="136.4" y1="195" x2="136.4" y2="206.6" stroke="#111" stroke-width="1.3"/>
<path d="M136.4,212.1 L133.8,206.6 L139.0,206.6 Z" fill="#111"/>
<text x="135.2" y="253.4" font-size="11" fill="#000" font-family='"Liberation Serif", serif' text-anchor="start" font-weight="normal"  stroke="#000" stroke-width="0.25">3</text>
<line x1="135.4" y1="242.9" x2="128.9" y2="247.2" stroke="#111" stroke-width="1.3"/>
<path d="M124.3,250.3 L127.4,245.1 L130.3,249.4 Z" fill="#111"/>
<text x="86.9" y="259.4" font-size="11" fill="#000" font-family='"Liberation Serif", serif' text-anchor="start" font-weight="normal"  stroke="#000" stroke-width="0.25">4</text>
<line x1="96.2" y1="259.4" x2="89.5" y2="250.7" stroke="#111" stroke-width="1.3"/>
<path d="M86.1,246.3 L91.5,249.1 L87.4,252.2 Z" fill="#111"/>
<text x="75.8" y="219.1" font-size="11" fill="#000" font-family='"Liberation Serif", serif' text-anchor="start" font-weight="normal"  stroke="#000" stroke-width="0.25">5</text>
<line x1="83.7" y1="225.2" x2="83.7" y2="211.5" stroke="#111" stroke-width="1.3"/>
<path d="M83.7,206 L86.3,211.5 L81.1,211.5 Z" fill="#111"/>
<rect x="249" y="172.4" width="153.7" height="122.9" fill="none" stroke="#111" stroke-width="1.3"/>
<line x1="249" y1="176.9" x2="252" y2="176.9" stroke="#111" stroke-width="1"/>
<line x1="249" y1="191.7" x2="252" y2="191.7" stroke="#111" stroke-width="1"/>
<line x1="249" y1="206.5" x2="252" y2="206.5" stroke="#111" stroke-width="1"/>
<line x1="249" y1="221.2" x2="252" y2="221.2" stroke="#111" stroke-width="1"/>
<line x1="249" y1="236.0" x2="252" y2="236.0" stroke="#111" stroke-width="1"/>
<line x1="249" y1="250.7" x2="252" y2="250.7" stroke="#111" stroke-width="1"/>
<line x1="249" y1="265.5" x2="252" y2="265.5" stroke="#111" stroke-width="1"/>
<line x1="249" y1="280.3" x2="252" y2="280.3" stroke="#111" stroke-width="1"/>
<text x="247" y="180.7" font-size="11" fill="#000" font-family='"Liberation Serif", serif' text-anchor="end" font-weight="normal"  stroke="#000" stroke-width="0.25">2.4</text>
<text x="247" y="210.3" font-size="11" fill="#000" font-family='"Liberation Serif", serif' text-anchor="end" font-weight="normal"  stroke="#000" stroke-width="0.25">1.6</text>
<text x="247" y="239.8" font-size="11" fill="#000" font-family='"Liberation Serif", serif' text-anchor="end" font-weight="normal"  stroke="#000" stroke-width="0.25">0.8</text>
<text x="247" y="269.3" font-size="11" fill="#000" font-family='"Liberation Serif", serif' text-anchor="end" font-weight="normal"  stroke="#000" stroke-width="0.25">0.0</text>
<text x="247" y="298.8" font-size="11" fill="#000" font-family='"Liberation Serif", serif' text-anchor="end" font-weight="normal"  stroke="#000" stroke-width="0.25">-0.8</text>
<line x1="268.5" y1="295.3" x2="268.5" y2="292.8" stroke="#111" stroke-width="1"/>
<line x1="306.8" y1="295.3" x2="306.8" y2="292.8" stroke="#111" stroke-width="1"/>
<line x1="345" y1="295.3" x2="345" y2="292.8" stroke="#111" stroke-width="1"/>
<line x1="384.4" y1="295.3" x2="384.4" y2="292.8" stroke="#111" stroke-width="1"/>
<text x="268.2" y="307.4" font-size="11" fill="#000" font-family='"Liberation Sans", sans-serif' text-anchor="middle" font-weight="normal"  stroke="#000" stroke-width="0.35">-Dark</text>
<text x="308.4" y="307.4" font-size="11" fill="#000" font-family='"Liberation Sans", sans-serif' text-anchor="middle" font-weight="normal"  stroke="#000" stroke-width="0.35">785</text>
<text x="347.9" y="307.4" font-size="11" fill="#000" font-family='"Liberation Sans", sans-serif' text-anchor="middle" font-weight="normal"  stroke="#000" stroke-width="0.35">500</text>
<text x="384.8" y="307.4" font-size="11" fill="#000" font-family='"Liberation Sans", sans-serif' text-anchor="middle" font-weight="normal"  stroke="#000" stroke-width="0.35">380</text>
<text x="322.3" y="317.9" font-size="12.3" fill="#000" font-family='"Liberation Sans", sans-serif' text-anchor="middle" font-weight="normal"  stroke="#000" stroke-width="0.3">Wavelength (nm)</text>
<text transform="translate(221.3,241.3) rotate(-90)" font-size="12.2" font-family='"Liberation Sans", sans-serif' text-anchor="middle" stroke="#000" stroke-width="0.3">Voltage (V)</text>
<line x1="278.4" y1="180.4" x2="386.4" y2="210" stroke="#3cb43c" stroke-width="1.4" stroke-dasharray="2.5,2"/>
<line x1="265.7" y1="274.5" x2="388" y2="274.5" stroke="#3cb43c" stroke-width="1.8" stroke-dasharray="2,3.6"/>
<line x1="268.4" y1="183.3" x2="268.4" y2="195.8" stroke="#111" stroke-width="1"/>
<line x1="265.9" y1="183.3" x2="270.9" y2="183.3" stroke="#111" stroke-width="1"/>
<line x1="265.9" y1="195.8" x2="270.9" y2="195.8" stroke="#111" stroke-width="1"/>
<rect x="252.8" y="184.2" width="31.19999999999999" height="7.600000000000023" rx="0.8" fill="#fff" stroke="#111" stroke-width="1.4"/>
<line x1="252.8" y1="186.9" x2="284" y2="186.9" stroke="#111" stroke-width="1"/>
<line x1="252.8" y1="189" x2="284" y2="189" stroke="#111" stroke-width="1"/>
<line x1="306.85" y1="199" x2="306.85" y2="207.9" stroke="#8c1414" stroke-width="1"/>
<line x1="304.35" y1="199" x2="309.35" y2="199" stroke="#8c1414" stroke-width="1"/>
<line x1="304.35" y1="207.9" x2="309.35" y2="207.9" stroke="#8c1414" stroke-width="1"/>
<rect x="290.9" y="201.6" width="31.900000000000034" height="3.3000000000000114" rx="0.8" fill="#8c1414" stroke="#8c1414" stroke-width="1.4"/>
<line x1="290.9" y1="203.2" x2="322.8" y2="203.2" stroke="#8c1414" stroke-width="1"/>
<line x1="345.70000000000005" y1="207" x2="345.70000000000005" y2="215.5" stroke="#2a9ea4" stroke-width="1"/>
<line x1="343.20000000000005" y1="207" x2="348.20000000000005" y2="207" stroke="#2a9ea4" stroke-width="1"/>
<line x1="343.20000000000005" y1="215.5" x2="348.20000000000005" y2="215.5" stroke="#2a9ea4" stroke-width="1"/>
<rect x="329.8" y="208.9" width="31.80000000000001" height="5.799999999999983" rx="0.8" fill="#fff" stroke="#2a9ea4" stroke-width="1.4"/>
<line x1="329.8" y1="211.8" x2="361.6" y2="211.8" stroke="#2a9ea4" stroke-width="1"/>
<line x1="384.45000000000005" y1="217.6" x2="384.45000000000005" y2="227" stroke="#b03ac0" stroke-width="1"/>
<line x1="381.95000000000005" y1="217.6" x2="386.95000000000005" y2="217.6" stroke="#b03ac0" stroke-width="1"/>
<line x1="381.95000000000005" y1="227" x2="386.95000000000005" y2="227" stroke="#b03ac0" stroke-width="1"/>
<rect x="368.6" y="221.8" width="31.69999999999999" height="3.799999999999983" rx="0.8" fill="#fff" stroke="#b03ac0" stroke-width="1.4"/>
<line x1="368.6" y1="223.7" x2="400.3" y2="223.7" stroke="#b03ac0" stroke-width="1"/>
<rect x="253" y="282.3" width="31" height="3" rx="1.5" fill="#fff" stroke="#111" stroke-width="1.3"/>
<rect x="266.5" y="281.3" width="4" height="5" rx="1.5" fill="#111"/>
<rect x="291.3" y="282.3" width="31.099999999999966" height="3" rx="1.5" fill="#8c1414" stroke="#8c1414" stroke-width="1.3"/>
<rect x="304.85" y="281.3" width="4" height="5" rx="1.5" fill="#8c1414"/>
<rect x="329.7" y="282.3" width="31.0" height="3" rx="1.5" fill="#2aa5a8" stroke="#2aa5a8" stroke-width="1.3"/>
<rect x="343.2" y="281.3" width="4" height="5" rx="1.5" fill="#2aa5a8"/>
<rect x="368.7" y="282.3" width="31.400000000000034" height="3" rx="1.5" fill="#b03ac0" stroke="#b03ac0" stroke-width="1.3"/>
<rect x="382.4" y="281.3" width="4" height="5" rx="1.5" fill="#b03ac0"/>
<text x="350.7" y="194.5" font-family='"Liberation Serif", serif' font-size="13.3" stroke="#000" stroke-width="0.25">V<tspan font-size="12.5" dy="4">RESET</tspan></text>
<text x="362.5" y="268.3" font-family='"Liberation Serif", serif' font-size="13.3" stroke="#000" stroke-width="0.25">V<tspan font-size="12" dy="3.7">SET</tspan></text>
<path d="M494,229 L418.68,212.99 A77,77 0 0 1 570.89,224.97 Z" fill="url(#uvg)"/>
<path d="M494,229 L570.89,224.97 A77,77 0 0 1 528.96,297.61 Z" fill="url(#grg)"/>
<path d="M494,229 L528.96,297.61 A77,77 0 0 1 420.98,253.43 Z" fill="url(#irg)"/>
<path d="M494,229 L420.98,253.43 A77,77 0 0 1 418.68,212.99 Z" fill="url(#whg)"/>
<line x1="459.5" y1="221.7" x2="416.7" y2="212.6" stroke="#fff" stroke-width="1.6"/>
<line x1="529.3" y1="227.2" x2="572.9" y2="224.9" stroke="#fff" stroke-width="1.6"/>
<line x1="510.0" y1="260.5" x2="529.9" y2="299.4" stroke="#fff" stroke-width="1.6"/>
<line x1="460.5" y1="240.2" x2="419.1" y2="254.1" stroke="#fff" stroke-width="1.6"/>
<circle cx="496.3" cy="230.3" r="35.3" fill="#fff"/>
<text x="494.5" y="162.5" font-size="10" fill="#fff" font-family='"Liberation Sans", sans-serif' text-anchor="middle" font-weight="bold"  stroke="#fff" stroke-width="0.25">UV</text>
<text x="496.7" y="189.6" font-size="10" fill="#fff" font-family='"Liberation Sans", sans-serif' text-anchor="middle" font-weight="bold"  stroke="#fff" stroke-width="0.25">46%</text>
<text x="535.6" y="251.5" font-size="10" fill="#fff" font-family='"Liberation Sans", sans-serif' text-anchor="middle" font-weight="bold"  stroke="#fff" stroke-width="0.25">18%</text>
<text x="543.7" y="271.3" font-size="10" fill="#fff" font-family='"Liberation Sans", sans-serif' text-anchor="middle" font-weight="bold"  stroke="#fff" stroke-width="0.25">Green</text>
<text x="474.4" y="268.9" font-size="10" fill="#fff" font-family='"Liberation Sans", sans-serif' text-anchor="middle" font-weight="bold"  stroke="#fff" stroke-width="0.25">27%</text>
<text x="465.6" y="296" font-size="10" fill="#fff" font-family='"Liberation Sans", sans-serif' text-anchor="middle" font-weight="bold"  stroke="#fff" stroke-width="0.25">IR</text>
<text x="438.3" y="235.7" font-size="10.5" fill="#111" font-family='"Liberation Sans", sans-serif' text-anchor="middle" font-weight="bold" textLength="42" lengthAdjust="spacingAndGlyphs" stroke="#111" stroke-width="0.25">White 9%</text>
<text x="494.2" y="225.4" font-size="9.7" fill="#111" font-family='"Liberation Sans", sans-serif' text-anchor="middle" font-weight="bold" textLength="53.7" lengthAdjust="spacingAndGlyphs" stroke="#111" stroke-width="0.25">2D-materials</text>
<text x="495" y="237.1" font-size="9.7" fill="#111" font-family='"Liberation Sans", sans-serif' text-anchor="middle" font-weight="bold"  stroke="#111" stroke-width="0.25">OEMs</text>
</svg>
</body></html>
